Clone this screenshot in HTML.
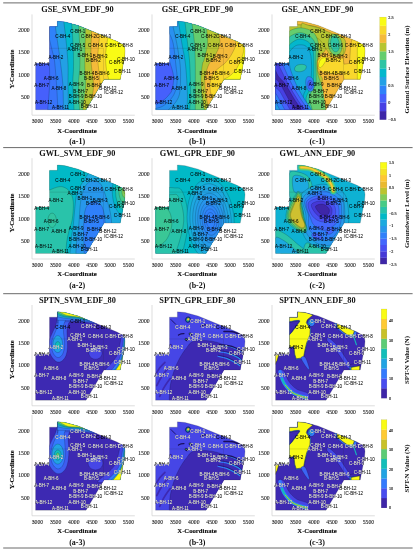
<!DOCTYPE html>
<html lang="en"><head><meta charset="utf-8"><title>Contour maps of GSE, GWL and SPT-N</title>
<style>html,body{margin:0;padding:0;background:#fff}svg{display:block}.t{font-family:"Liberation Serif",serif;font-weight:bold;fill:#111}.k{font-family:"Liberation Serif",serif;fill:#1a1a1a;font-size:57px;stroke:#1a1a1a;stroke-width:1px}.b{font-family:"Liberation Sans",sans-serif;font-size:4.5px;fill:#000;stroke:#000;stroke-width:.04px}.w{font-family:"Liberation Sans",sans-serif;font-size:4.5px;fill:#fff;stroke:#fff;stroke-width:.04px}.c path{stroke:#000;stroke-opacity:.55;stroke-width:.33;stroke-linejoin:round}</style></head><body>
<svg width="416" height="550" viewBox="0 0 416 550">
<rect width="416" height="550" fill="#fff"/>
<defs><clipPath id="site"><path d="M35.6 109.7 L35.6 63.3 L49.5 63.3 L49.5 26.6 L57.4 26.6 L57.4 21.2 L65 21.9 L78 25.4 L100 34.4 L117 41.5 L122.9 44.7 L124.6 48 L125 50.7 L124.5 57 L123.4 62.7 L120.2 79.3 L104 79.3 L86 109.7Z"/></clipPath></defs>
<line x1="3.2" x2="412.6" y1="2.9" y2="2.9" stroke="#6a6a6a" stroke-width="1"/>
<line x1="3.2" x2="412.6" y1="147.6" y2="147.6" stroke="#6a6a6a" stroke-width="1"/>
<line x1="3.2" x2="412.6" y1="293.7" y2="293.7" stroke="#6a6a6a" stroke-width="1"/>
<line x1="3.2" x2="412.6" y1="548" y2="548" stroke="#6a6a6a" stroke-width="1"/>
<g transform="translate(0 0)">
<path d="M32 14.4V115.2H134.8" fill="none" stroke="#cfcfcf" stroke-width=".7"/>
<text class="k" transform="translate(37.4 123.2) scale(.1)" text-anchor="middle">3000</text>
<text class="k" transform="translate(55.6 123.2) scale(.1)" text-anchor="middle">3500</text>
<text class="k" transform="translate(73.8 123.2) scale(.1)" text-anchor="middle">4000</text>
<text class="k" transform="translate(92 123.2) scale(.1)" text-anchor="middle">4500</text>
<text class="k" transform="translate(110.2 123.2) scale(.1)" text-anchor="middle">5000</text>
<text class="k" transform="translate(128.4 123.2) scale(.1)" text-anchor="middle">5500</text>
<text class="k" transform="translate(29.6 32.1) scale(.1)" text-anchor="end">2000</text>
<text class="k" transform="translate(29.6 54.4) scale(.1)" text-anchor="end">1500</text>
<text class="k" transform="translate(29.6 76.7) scale(.1)" text-anchor="end">1000</text>
<text class="k" transform="translate(29.6 99) scale(.1)" text-anchor="end">500</text>
<text class="t" x="77.4" y="12" font-size="8.3" text-anchor="middle">GSE_SVM_EDF_90</text>
<text class="t" x="77" y="132.7" font-size="6.7" text-anchor="middle" style="stroke:#111;stroke-width:.14px">X-Coordinate</text>
<text class="t" x="77.2" y="144" font-size="8" text-anchor="middle">(a-1)</text>
<text class="t" font-size="6.7" text-anchor="middle" style="stroke:#111;stroke-width:.14px" transform="translate(14.2 69) rotate(-90)">Y-Coordinate</text>
<g class="c" clip-path="url(#site)">
<rect x="30" y="15" width="100" height="100" fill="#4660fc" stroke="none"/>
<path d="M49.4 63.3C49.43 66.75 49.88 76.22 49.6 84C49.32 91.78 48.02 105.67 47.7 110L47.7 120L140 120L140 0L49.4 0Z" fill="#3874fa"/>
<path d="M49.5 39.6C50 41.67 51.68 48.6 52.5 52C53.32 55.4 53.73 54.67 54.4 60C55.07 65.33 55.92 75.67 56.5 84C57.08 92.33 57.67 105.67 57.9 110L57.9 120L140 120L140 0L49.5 0Z" fill="#2f82f9"/>
<path d="M55.3 26.5C55.75 29.58 57.13 38.92 58 45C58.87 51.08 59.7 56.5 60.5 63C61.3 69.5 62.3 76.17 62.8 84C63.3 91.83 63.38 105.67 63.5 110L63.5 120L140 120L140 0L55.3 0Z" fill="#23a0e5"/>
<path d="M63.8 21.6C64.25 25.5 65.8 37.77 66.5 45C67.2 52.23 67.75 58.5 68 65C68.25 71.5 67.92 76.5 68 84C68.08 91.5 68.42 105.67 68.5 110L68.5 120L140 120L140 0L63.8 0Z" fill="#03b7cc"/>
<path d="M71.8 23.8C72.05 28.17 73.02 42.63 73.3 50C73.58 57.37 73.58 62.33 73.5 68C73.42 73.67 72.72 77 72.8 84C72.88 91 73.8 105.67 74 110L74 120L140 120L140 0L71.8 0Z" fill="#2ec4a4"/>
<path d="M78.8 26C78.97 30 79.63 43 79.8 50C79.97 57 80.02 62.33 79.8 68C79.58 73.67 78.55 77 78.5 84C78.45 91 79.33 105.67 79.5 110L79.5 120L140 120L140 0L78.8 0Z" fill="#65cd6e"/>
<path d="M85.6 29.5C85.5 32.92 85.13 43.58 85 50C84.87 56.42 84.67 62.33 84.8 68C84.93 73.67 85.93 78.67 85.8 84C85.67 89.33 84.48 95.67 84 100C83.52 104.33 83.08 108.33 82.9 110L82.9 120L140 120L140 0L85.6 0Z" fill="#b6c532"/>
<path d="M91.5 31C91.42 35.83 90.67 51.17 91 60C91.33 68.83 93.33 77.67 93.5 84C93.67 90.33 92.42 94.67 92 98C91.58 101.33 91.17 103 91 104L91 120L140 120L140 0L91.5 0Z" fill="#f4ba3a"/>
<path d="M99.8 34C99.53 36.67 98.53 45.67 98.2 50C97.87 54.33 97.47 54.33 97.8 60C98.13 65.67 99.83 78.67 100.2 84C100.57 89.33 100.03 90.67 100 92L100 120L140 120L140 0L99.8 0Z" fill="#f9d82c"/>
<path d="M108 37C107.7 38.83 106.6 44.5 106.2 48C105.8 51.5 105.55 54.33 105.6 58C105.65 61.67 105.93 66.33 106.5 70C107.07 73.67 108.58 78.33 109 80L109 120L140 120L140 0L108 0Z" fill="#f9fb15"/>
</g>
<path d="M35.6 109.7 L35.6 63.3 L49.5 63.3 L49.5 26.6 L57.4 26.6 L57.4 21.2 L65 21.9 L78 25.4 L100 34.4 L117 41.5 L122.9 44.7 L124.6 48 L125 50.7 L124.5 57 L123.4 62.7 L120.2 79.3 L104 79.3 L86 109.7Z" fill="none" stroke="#222" stroke-opacity=".55" stroke-width=".35"/>
<path d="M49.5 48.3H103.5V79.3" fill="none" stroke="#222" stroke-opacity=".45" stroke-width=".3"/>
<text class="b" x="77.7" y="32.6" text-anchor="middle">C-BH-1</text>
<text class="b" x="62.7" y="38.4" text-anchor="middle">C-BH-4</text>
<text class="b" x="88.4" y="37.8" text-anchor="middle">C-BH-2</text>
<text class="b" x="103.6" y="38.4" text-anchor="middle">C-BH-3</text>
<text class="b" x="77.7" y="46.5" text-anchor="middle">C-BH-5</text>
<text class="b" x="74.8" y="50.8" text-anchor="middle">A-BH-1</text>
<text class="b" x="95.6" y="47.1" text-anchor="middle">C-BH-6</text>
<text class="b" x="112.3" y="47.1" text-anchor="middle">C-BH-7</text>
<text class="b" x="125.3" y="47.1" text-anchor="middle">C-BH-8</text>
<text class="b" x="84.9" y="56.5" text-anchor="middle">B-BH-1</text>
<text class="b" x="100.2" y="58" text-anchor="middle">B-BH-3</text>
<text class="b" x="93.5" y="61.5" text-anchor="middle">B-BH-2</text>
<text class="b" x="56" y="58.5" text-anchor="middle">A-BH-2</text>
<text class="b" x="126" y="60.9" text-anchor="middle">C-BH-10</text>
<text class="b" x="116.6" y="64.4" text-anchor="middle">C-BH-9</text>
<text class="b" x="41.6" y="65.8" text-anchor="middle">A-BH-4</text>
<text class="b" x="122.4" y="73" text-anchor="middle">C-BH-11</text>
<text class="b" x="87" y="75.3" text-anchor="middle">B-BH-4</text>
<text class="b" x="102.2" y="75.3" text-anchor="middle">B-BH-6</text>
<text class="b" x="91.5" y="79.6" text-anchor="middle">B-BH-5</text>
<text class="b" x="51.2" y="79.6" text-anchor="middle">A-BH-6</text>
<text class="b" x="41.6" y="86.9" text-anchor="middle">A-BH-7</text>
<text class="b" x="76.2" y="86" text-anchor="middle">A-BH-9</text>
<text class="b" x="94.4" y="87.4" text-anchor="middle">B-BH-8</text>
<text class="b" x="58.9" y="89.7" text-anchor="middle">A-BH-8</text>
<text class="b" x="80.6" y="92.6" text-anchor="middle">B-BH-7</text>
<text class="b" x="108" y="89.7" text-anchor="middle">B-BH-12</text>
<text class="b" x="113.7" y="94.1" text-anchor="middle">IC-BH-12</text>
<text class="b" x="76.2" y="97.5" text-anchor="middle">B-BH-9</text>
<text class="b" x="93.5" y="97.5" text-anchor="middle">B-BH-10</text>
<text class="b" x="43.6" y="103.9" text-anchor="middle">A-BH-12</text>
<text class="b" x="77.1" y="103.9" text-anchor="middle">A-BH-10</text>
<text class="b" x="60.4" y="109.1" text-anchor="middle">A-BH-11</text>
<text class="b" x="89.2" y="107.6" text-anchor="middle">B-BH-11</text>
</g>
<g transform="translate(120 0)">
<path d="M32 14.4V115.2H134.8" fill="none" stroke="#cfcfcf" stroke-width=".7"/>
<text class="k" transform="translate(37.4 123.2) scale(.1)" text-anchor="middle">3000</text>
<text class="k" transform="translate(55.6 123.2) scale(.1)" text-anchor="middle">3500</text>
<text class="k" transform="translate(73.8 123.2) scale(.1)" text-anchor="middle">4000</text>
<text class="k" transform="translate(92 123.2) scale(.1)" text-anchor="middle">4500</text>
<text class="k" transform="translate(110.2 123.2) scale(.1)" text-anchor="middle">5000</text>
<text class="k" transform="translate(128.4 123.2) scale(.1)" text-anchor="middle">5500</text>
<text class="k" transform="translate(29.6 32.1) scale(.1)" text-anchor="end">2000</text>
<text class="k" transform="translate(29.6 54.4) scale(.1)" text-anchor="end">1500</text>
<text class="k" transform="translate(29.6 76.7) scale(.1)" text-anchor="end">1000</text>
<text class="k" transform="translate(29.6 99) scale(.1)" text-anchor="end">500</text>
<text class="t" x="77.4" y="12" font-size="8.3" text-anchor="middle">GSE_GPR_EDF_90</text>
<text class="t" x="77" y="132.7" font-size="6.7" text-anchor="middle" style="stroke:#111;stroke-width:.14px">X-Coordinate</text>
<text class="t" x="77.2" y="144" font-size="8" text-anchor="middle">(b-1)</text>
<g class="c" clip-path="url(#site)">
<rect x="30" y="15" width="100" height="100" fill="#2f82f9" stroke="none"/>
<path d="M49.2 33C49.87 34.77 52.1 38.37 53.2 43.6C54.3 48.83 55.13 58.33 55.8 64.4C56.47 70.47 57.33 75.4 57.2 80C57.07 84.6 56.2 88.67 55 92C53.8 95.33 52 97.67 50 100C48 102.33 45.4 104.58 43 106C40.6 107.42 37.77 108 35.6 108.5C33.43 109 30.93 108.92 30 109L30 120L140 120L140 0L49.2 0Z" fill="#2991ef"/>
<path d="M30 60L30 60L49.2 60C49.5 61 50.37 63.83 51 66C51.63 68.17 52.57 70.67 53 73C53.43 75.33 53.77 77.17 53.6 80C53.43 82.83 52.72 87.6 52 90C51.28 92.4 50.47 92.9 49.3 94.4C48.13 95.9 46.55 97.65 45 99C43.45 100.35 41.57 101.58 40 102.5C38.43 103.42 37.27 104.08 35.6 104.5C33.93 104.92 30.93 104.92 30 105Z" fill="#4660fc"/>
<path d="M53 26.6C53.63 29.43 55.62 37.3 56.8 43.6C57.98 49.9 59.48 58.33 60.1 64.4C60.72 70.47 60.62 75 60.5 80C60.38 85 60.32 90.57 59.4 94.4C58.48 98.23 56.9 100.4 55 103C53.1 105.6 49.17 108.83 48 110L48 120L140 120L140 0L53 0Z" fill="#23a0e5"/>
<path d="M58.5 22C59.07 25.6 60.73 36.53 61.9 43.6C63.07 50.67 64.58 55.93 65.5 64.4C66.42 72.87 67.22 86.8 67.4 94.4C67.58 102 66.73 107.4 66.6 110L66.6 120L140 120L140 0L58.5 0Z" fill="#03b7cc"/>
<path d="M65 22C65.43 25.6 66.8 36.53 67.6 43.6C68.4 50.67 69.32 55.93 69.8 64.4C70.28 72.87 70.5 86.8 70.5 94.4C70.5 102 69.92 107.4 69.8 110L69.8 120L140 120L140 0L65 0Z" fill="#2ec4a4"/>
<path d="M72 23.5C72.42 26.85 73.95 36.78 74.5 43.6C75.05 50.42 75.17 55.93 75.3 64.4C75.43 72.87 75.3 86.8 75.3 94.4C75.3 102 75.3 107.4 75.3 110L75.3 120L140 120L140 0L72 0Z" fill="#65cd6e"/>
<path d="M86.5 28C86.55 28.33 86.63 27.27 86.8 30C86.97 32.73 87.97 39.4 87.5 44.4C87.03 49.4 84.83 56.73 84 60C83.17 63.27 83 60.93 82.5 64C82 67.07 81.12 73.58 81 78.4C80.88 83.22 81.3 88.08 81.8 92.9C82.3 97.72 83.55 104.45 84 107.3C84.45 110.15 84.42 109.55 84.5 110L84.5 120L140 120L140 0L86.5 0Z" fill="#b6c532"/>
<path d="M99 33C99.02 33.33 98.97 33.1 99.1 35C99.23 36.9 100.52 40.9 99.8 44.4C99.08 47.9 96.6 52.73 94.8 56C93 59.27 90.57 60.75 89 64C87.43 67.25 86.08 71.9 85.4 75.5C84.72 79.1 84.67 81.52 84.9 85.6C85.13 89.68 86.23 96.63 86.8 100C87.37 103.37 87.93 104.13 88.3 105.8C88.67 107.47 88.88 109.3 89 110L89 120L140 120L140 0L99 0Z" fill="#f4ba3a"/>
<path d="M115.8 40C115.78 40.38 115.83 41.08 115.7 42.3C115.57 43.52 115.85 45.02 115 47.3C114.15 49.58 112.28 53.35 110.6 56C108.92 58.65 106.45 61.53 104.9 63.2C103.35 64.87 103.12 64.42 101.3 66C99.48 67.58 95.82 70.15 94 72.7C92.18 75.25 91 78.18 90.4 81.3C89.8 84.42 89.92 88.52 90.4 91.4C90.88 94.28 92.2 97.25 93.3 98.6C94.4 99.95 95.88 99.43 97 99.5C98.12 99.57 99.5 99.08 100 99L100 120L140 120L140 0L115.8 0Z" fill="#f9d82c"/>
<path d="M122 42C122.03 42.4 121.93 42.8 122.2 44.4C122.47 46 124.08 48.47 123.6 51.6C123.12 54.73 120.73 59.97 119.3 63.2C117.87 66.43 116.72 68.78 115 71C113.28 73.22 110.82 75.12 109 76.5C107.18 77.88 105.1 78.38 104.1 79.3C103.1 80.22 103.18 81.55 103 82L103 120L140 120L140 0L122 0Z" fill="#f9fb15"/>
</g>
<path d="M35.6 109.7 L35.6 63.3 L49.5 63.3 L49.5 26.6 L57.4 26.6 L57.4 21.2 L65 21.9 L78 25.4 L100 34.4 L117 41.5 L122.9 44.7 L124.6 48 L125 50.7 L124.5 57 L123.4 62.7 L120.2 79.3 L104 79.3 L86 109.7Z" fill="none" stroke="#222" stroke-opacity=".55" stroke-width=".35"/>
<path d="M49.5 48.3H103.5V79.3" fill="none" stroke="#222" stroke-opacity=".45" stroke-width=".3"/>
<text class="b" x="77.7" y="32.6" text-anchor="middle">C-BH-1</text>
<text class="b" x="62.7" y="38.4" text-anchor="middle">C-BH-4</text>
<text class="b" x="88.4" y="37.8" text-anchor="middle">C-BH-2</text>
<text class="b" x="103.6" y="38.4" text-anchor="middle">C-BH-3</text>
<text class="b" x="77.7" y="46.5" text-anchor="middle">C-BH-5</text>
<text class="b" x="74.8" y="50.8" text-anchor="middle">A-BH-1</text>
<text class="b" x="95.6" y="47.1" text-anchor="middle">C-BH-6</text>
<text class="b" x="112.3" y="47.1" text-anchor="middle">C-BH-7</text>
<text class="b" x="125.3" y="47.1" text-anchor="middle">C-BH-8</text>
<text class="b" x="84.9" y="56.5" text-anchor="middle">B-BH-1</text>
<text class="b" x="100.2" y="58" text-anchor="middle">B-BH-3</text>
<text class="b" x="93.5" y="61.5" text-anchor="middle">B-BH-2</text>
<text class="b" x="56" y="58.5" text-anchor="middle">A-BH-2</text>
<text class="b" x="126" y="60.9" text-anchor="middle">C-BH-10</text>
<text class="b" x="116.6" y="64.4" text-anchor="middle">C-BH-9</text>
<text class="b" x="41.6" y="65.8" text-anchor="middle">A-BH-4</text>
<text class="b" x="122.4" y="73" text-anchor="middle">C-BH-11</text>
<text class="b" x="87" y="75.3" text-anchor="middle">B-BH-4</text>
<text class="b" x="102.2" y="75.3" text-anchor="middle">B-BH-6</text>
<text class="b" x="91.5" y="79.6" text-anchor="middle">B-BH-5</text>
<text class="b" x="51.2" y="79.6" text-anchor="middle">A-BH-6</text>
<text class="b" x="41.6" y="86.9" text-anchor="middle">A-BH-7</text>
<text class="b" x="76.2" y="86" text-anchor="middle">A-BH-9</text>
<text class="b" x="94.4" y="87.4" text-anchor="middle">B-BH-8</text>
<text class="b" x="58.9" y="89.7" text-anchor="middle">A-BH-8</text>
<text class="b" x="80.6" y="92.6" text-anchor="middle">B-BH-7</text>
<text class="b" x="108" y="89.7" text-anchor="middle">B-BH-12</text>
<text class="b" x="113.7" y="94.1" text-anchor="middle">IC-BH-12</text>
<text class="b" x="76.2" y="97.5" text-anchor="middle">B-BH-9</text>
<text class="b" x="93.5" y="97.5" text-anchor="middle">B-BH-10</text>
<text class="b" x="43.6" y="103.9" text-anchor="middle">A-BH-12</text>
<text class="b" x="77.1" y="103.9" text-anchor="middle">A-BH-10</text>
<text class="b" x="60.4" y="109.1" text-anchor="middle">A-BH-11</text>
<text class="b" x="89.2" y="107.6" text-anchor="middle">B-BH-11</text>
</g>
<g transform="translate(240 0)">
<path d="M32 14.4V115.2H134.8" fill="none" stroke="#cfcfcf" stroke-width=".7"/>
<text class="k" transform="translate(37.4 123.2) scale(.1)" text-anchor="middle">3000</text>
<text class="k" transform="translate(55.6 123.2) scale(.1)" text-anchor="middle">3500</text>
<text class="k" transform="translate(73.8 123.2) scale(.1)" text-anchor="middle">4000</text>
<text class="k" transform="translate(92 123.2) scale(.1)" text-anchor="middle">4500</text>
<text class="k" transform="translate(110.2 123.2) scale(.1)" text-anchor="middle">5000</text>
<text class="k" transform="translate(128.4 123.2) scale(.1)" text-anchor="middle">5500</text>
<text class="k" transform="translate(29.6 32.1) scale(.1)" text-anchor="end">2000</text>
<text class="k" transform="translate(29.6 54.4) scale(.1)" text-anchor="end">1500</text>
<text class="k" transform="translate(29.6 76.7) scale(.1)" text-anchor="end">1000</text>
<text class="k" transform="translate(29.6 99) scale(.1)" text-anchor="end">500</text>
<text class="t" x="77.4" y="12" font-size="8.3" text-anchor="middle">GSE_ANN_EDF_90</text>
<text class="t" x="77" y="132.7" font-size="6.7" text-anchor="middle" style="stroke:#111;stroke-width:.14px">X-Coordinate</text>
<text class="t" x="77.2" y="144" font-size="8" text-anchor="middle">(c-1)</text>
<g class="c" clip-path="url(#site)">
<rect x="30" y="15" width="100" height="100" fill="#b6c532" stroke="none"/>
<path d="M48.03 24.13C49.55 24.21 53.36 24.38 57.16 24.62C60.97 24.86 66.78 24.94 70.87 25.58C74.95 26.22 78.88 27.1 81.68 28.46C84.49 29.82 86.77 31.59 87.69 33.75C88.61 35.91 87.69 38.56 87.21 41.44C86.73 44.33 86.01 48.73 84.81 51.06C83.61 53.38 81.28 53.38 80 55.38C78.72 57.39 77.36 60.19 77.12 63.08C76.88 65.96 77.68 70.09 78.56 72.69C79.44 75.3 82 76.3 82.4 78.7C82.8 81.11 81.04 84.11 80.96 87.12C80.88 90.12 81.36 93.53 81.92 96.73C82.48 99.94 83.53 103.54 84.33 106.35C85.13 109.15 86.33 112.36 86.73 113.56L130.96 113.56L130.96 15L48.03 15Z" fill="#f4ba3a"/>
<path d="M61.88 23.25C62.55 22.36 64.38 24.03 65.94 24.5C67.5 24.97 69.24 25.52 71.25 26.06C73.26 26.61 75.89 27.1 77.97 27.78C80.05 28.46 81.74 29.32 83.75 30.12C85.76 30.93 87.92 31.77 90 32.62C92.08 33.48 93.91 34.29 96.25 35.28C98.59 36.27 102.45 36.87 104.06 38.56C105.68 40.26 105.94 42.86 105.94 45.44C105.94 48.02 105.29 52.16 104.06 54.03C102.84 55.91 100.68 56.35 98.59 56.69C96.51 57.03 93.52 57.16 91.56 56.06C89.61 54.97 88.7 52.68 86.88 50.12C85.05 47.57 83.23 43.35 80.62 40.75C78.02 38.15 74.38 36.32 71.25 34.5C68.12 32.68 63.44 31.69 61.88 29.81C60.31 27.94 61.2 24.14 61.88 23.25Z" fill="#b6c532"/>
<path d="M46.83 32.31C48.03 31.75 51.43 29.66 54.04 28.94C56.64 28.22 59.33 27.5 62.45 27.98C65.58 28.46 70.18 29.58 72.79 31.83C75.39 34.07 77.12 37.84 78.08 41.44C79.04 45.05 78.76 49.86 78.56 53.46C78.36 57.07 76.96 59.47 76.88 63.08C76.79 66.68 77.32 71.49 78.08 75.1C78.84 78.7 80.48 81.11 81.44 84.71C82.4 88.32 83.04 91.92 83.85 96.73C84.65 101.54 85.85 110.75 86.25 113.56L30 113.56L30 32.31Z" fill="#65cd6e"/>
<path d="M46.83 38.56C48.03 37.84 51.55 35.19 54.04 34.23C56.52 33.27 58.85 32.23 61.73 32.79C64.62 33.35 69.02 35.35 71.35 37.6C73.67 39.84 74.95 42 75.67 46.25C76.39 50.5 75.59 58.27 75.67 63.08C75.75 67.88 76.15 71.49 76.15 75.1C76.15 78.7 76.47 81.91 75.67 84.71C74.87 87.52 72.47 89.52 71.35 91.92C70.22 94.33 68.94 96.73 68.94 99.13C68.94 101.54 70.62 103.94 71.35 106.35C72.07 108.75 72.95 112.36 73.27 113.56L30 113.56L30 38.56Z" fill="#2ec4a4"/>
<path d="M46.83 47.45C47.83 46.53 50.63 43.33 52.84 41.92C55.04 40.52 57.36 38.96 60.05 39.04C62.73 39.12 66.74 40.4 68.94 42.4C71.15 44.41 72.47 45.61 73.27 51.06C74.07 56.51 73.91 69.29 73.75 75.1C73.59 80.91 73.27 82.91 72.31 85.91C71.35 88.92 69.02 90.92 67.98 93.12C66.94 95.33 66.06 96.73 66.06 99.13C66.06 101.54 67.38 105.14 67.98 107.55C68.58 109.95 69.38 112.56 69.66 113.56L30 113.56L30 47.45Z" fill="#03b7cc"/>
<path d="M46.83 55.38C47.71 54.26 50.31 50.38 52.12 48.65C53.92 46.93 55.32 45.45 57.64 45.05C59.97 44.65 63.85 44.45 66.06 46.25C68.26 48.05 69.98 51.06 70.87 55.87C71.75 60.67 71.75 70.09 71.35 75.1C70.95 80.1 69.66 82.91 68.46 85.91C67.26 88.92 65.02 90.72 64.13 93.12C63.25 95.53 62.93 97.93 63.17 100.34C63.41 102.74 64.98 105.34 65.58 107.55C66.18 109.75 66.58 112.56 66.78 113.56L30 113.56L30 55.38Z" fill="#15aada"/>
<path d="M54.53 68.71C54.65 67.72 55.37 66.11 56.7 65.39C58.02 64.67 60.9 64.31 62.47 64.38C64.03 64.45 65.59 64.98 66.08 65.82C66.56 66.66 66.2 68.47 65.35 69.43C64.51 70.39 62.59 71.28 61.02 71.59C59.46 71.91 57.06 71.79 55.97 71.31C54.89 70.82 54.41 69.69 54.53 68.71Z" fill="#2ec4a4"/>
<path d="M49.05 60.77C49.14 61.49 49.31 63.42 49.62 65.1C49.94 66.78 49.87 67.75 50.92 70.87C51.98 74 53.81 79.29 55.97 83.86C58.14 88.43 61.63 94.44 63.91 98.29C66.2 102.14 68.12 104.54 69.68 106.95C71.25 109.35 72.69 111.76 73.29 112.72L30 112.72L30 60.77Z" fill="#2f82f9"/>
<path d="M42.27 60.77C42.43 61.49 42.72 63.42 43.28 65.1C43.83 66.78 44.19 67.75 45.58 70.87C46.98 74 49.19 79.29 51.65 83.86C54.1 88.43 57.9 94.44 60.3 98.29C62.71 102.14 64.51 104.54 66.08 106.95C67.64 109.35 69.08 111.76 69.68 112.72L30 112.72L30 60.77Z" fill="#4660fc"/>
<path d="M37.5 60.77C37.7 61.49 37.98 63.42 38.66 65.1C39.33 66.78 39.98 67.75 41.54 70.87C43.11 74 45.51 79.29 48.04 83.86C50.56 88.43 54.29 94.44 56.7 98.29C59.1 102.14 60.9 104.54 62.47 106.95C64.03 109.35 65.47 111.76 66.08 112.72L30 112.72L30 60.77Z" fill="#4740e3"/>
<path d="M32.89 67.27C33.32 67.82 34.52 69.02 35.48 70.58C36.45 72.15 37.05 74.43 38.66 76.65C40.27 78.86 42.63 80.25 45.15 83.86C47.68 87.47 51.4 94.44 53.81 98.29C56.21 102.14 57.97 104.54 59.58 106.95C61.19 109.35 62.83 111.76 63.48 112.72L30 112.72L30 67.27Z" fill="#3e26a8"/>
<path d="M32.89 76.65C33.32 77.01 34.28 77.61 35.48 78.81C36.69 80.01 38.01 80.61 40.1 83.86C42.19 87.11 45.87 94.44 48.04 98.29C50.2 102.14 51.65 104.54 53.09 106.95C54.53 109.35 56.09 111.76 56.7 112.72L30 112.72L30 76.65Z" fill="#4740e3"/>
<path d="M32.89 86.02C33.32 86.27 34.38 86.63 35.48 87.47C36.59 88.31 38.15 89.27 39.52 91.08C40.89 92.88 42.22 95.64 43.71 98.29C45.2 100.94 47.15 104.54 48.47 106.95C49.79 109.35 51.12 111.76 51.65 112.72L30 112.72L30 86.02Z" fill="#4660fc"/>
<path d="M32.89 91.8C33.32 92.04 34.52 92.16 35.48 93.24C36.45 94.32 37.36 96.01 38.66 98.29C39.96 100.57 41.95 104.54 43.28 106.95C44.6 109.35 46.04 111.76 46.59 112.72L30 112.72L30 91.8Z" fill="#2f82f9"/>
<path d="M32.89 100.89C33.32 101.06 34.57 100.89 35.48 101.9C36.4 102.91 37.41 105.14 38.37 106.95C39.33 108.75 40.77 111.76 41.26 112.72L30 112.72L30 100.89Z" fill="#23a0e5"/>
<path d="M67.81 76.65C68.86 76.28 71.1 76.89 72.14 78.09C73.17 79.29 73.87 81.82 74.01 83.86C74.16 85.9 73.84 89.15 73 90.35C72.16 91.56 70.12 91.8 68.96 91.08C67.81 90.35 66.6 87.83 66.08 86.02C65.55 84.22 65.5 81.82 65.79 80.25C66.08 78.69 66.75 77.01 67.81 76.65Z" fill="#2f82f9"/>
<path d="M68.67 80.69C69.3 80.2 70.91 80.2 71.56 80.97C72.21 81.74 72.62 83.96 72.57 85.3C72.52 86.65 71.92 88.57 71.27 89.05C70.62 89.54 69.25 89.05 68.67 88.19C68.1 87.32 67.81 85.11 67.81 83.86C67.81 82.61 68.05 81.17 68.67 80.69Z" fill="#4660fc"/>
<path d="M77.5 61.06 L81.41 56.06 L88.44 57.62 L103.28 58.25 L104.06 64.19 L109.53 63.41 L110.62 45.44 L111.88 39.5 L117.34 40.44 L127.5 40.44 L127.5 80.12 L104.06 80.12 L103.28 73.56 L93.12 74.34 L83.75 72.78 L78.28 68.88Z" fill="#f9d82c"/>
<path d="M117.34 40.44 L127.5 40.44 L127.5 80.12 L117.34 80.12Z" fill="#f9fb15"/>
<path d="M78.75 63.88C79.06 62.7 79.66 60.54 80.62 59.5C81.59 58.46 83.62 57.62 84.53 57.62C85.44 57.62 86.22 58.41 86.09 59.5C85.96 60.59 84.66 62.83 83.75 64.19C82.84 65.54 81.46 67.23 80.62 67.62C79.79 68.02 79.06 67.16 78.75 66.53C78.44 65.91 78.44 65.05 78.75 63.88Z" fill="#f9fb15"/>
<path d="M101.93 43.65C102.22 45.71 102.06 48.23 101.51 50C100.97 51.78 99.85 53.48 98.68 54.29C97.52 55.1 95.87 55.33 94.52 54.88C93.18 54.42 91.63 53.09 90.62 51.54C89.61 49.98 88.76 47.6 88.47 45.55C88.18 43.49 88.34 40.97 88.89 39.2C89.43 37.42 90.55 35.72 91.72 34.91C92.88 34.1 94.53 33.87 95.88 34.32C97.22 34.78 98.77 36.11 99.78 37.66C100.79 39.22 101.64 41.6 101.93 43.65Z" fill="#65cd6e"/>
<path d="M99.36 43.39C99.58 44.94 99.5 46.83 99.18 48.16C98.85 49.49 98.15 50.75 97.41 51.35C96.66 51.94 95.59 52.09 94.71 51.72C93.83 51.36 92.81 50.34 92.13 49.15C91.45 47.97 90.86 46.16 90.64 44.61C90.42 43.06 90.5 41.17 90.82 39.84C91.15 38.51 91.85 37.25 92.59 36.65C93.34 36.06 94.41 35.91 95.29 36.28C96.17 36.64 97.19 37.66 97.87 38.85C98.55 40.03 99.14 41.84 99.36 43.39Z" fill="#2ec4a4"/>
</g>
<path d="M35.6 109.7 L35.6 63.3 L49.5 63.3 L49.5 26.6 L57.4 26.6 L57.4 21.2 L65 21.9 L78 25.4 L100 34.4 L117 41.5 L122.9 44.7 L124.6 48 L125 50.7 L124.5 57 L123.4 62.7 L120.2 79.3 L104 79.3 L86 109.7Z" fill="none" stroke="#222" stroke-opacity=".55" stroke-width=".35"/>
<path d="M49.5 48.3H103.5V79.3" fill="none" stroke="#222" stroke-opacity=".45" stroke-width=".3"/>
<text class="b" x="77.7" y="32.6" text-anchor="middle">C-BH-1</text>
<text class="b" x="62.7" y="38.4" text-anchor="middle">C-BH-4</text>
<text class="b" x="88.4" y="37.8" text-anchor="middle">C-BH-2</text>
<text class="b" x="103.6" y="38.4" text-anchor="middle">C-BH-3</text>
<text class="b" x="77.7" y="46.5" text-anchor="middle">C-BH-5</text>
<text class="b" x="74.8" y="50.8" text-anchor="middle">A-BH-1</text>
<text class="b" x="95.6" y="47.1" text-anchor="middle">C-BH-6</text>
<text class="b" x="112.3" y="47.1" text-anchor="middle">C-BH-7</text>
<text class="b" x="125.3" y="47.1" text-anchor="middle">C-BH-8</text>
<text class="b" x="84.9" y="56.5" text-anchor="middle">B-BH-1</text>
<text class="b" x="100.2" y="58" text-anchor="middle">B-BH-3</text>
<text class="b" x="93.5" y="61.5" text-anchor="middle">B-BH-2</text>
<text class="b" x="56" y="58.5" text-anchor="middle">A-BH-2</text>
<text class="b" x="126" y="60.9" text-anchor="middle">C-BH-10</text>
<text class="b" x="116.6" y="64.4" text-anchor="middle">C-BH-9</text>
<text class="b" x="41.6" y="65.8" text-anchor="middle">A-BH-4</text>
<text class="b" x="122.4" y="73" text-anchor="middle">C-BH-11</text>
<text class="b" x="87" y="75.3" text-anchor="middle">B-BH-4</text>
<text class="b" x="102.2" y="75.3" text-anchor="middle">B-BH-6</text>
<text class="b" x="91.5" y="79.6" text-anchor="middle">B-BH-5</text>
<text class="b" x="51.2" y="79.6" text-anchor="middle">A-BH-6</text>
<text class="b" x="41.6" y="86.9" text-anchor="middle">A-BH-7</text>
<text class="b" x="76.2" y="86" text-anchor="middle">A-BH-9</text>
<text class="b" x="94.4" y="87.4" text-anchor="middle">B-BH-8</text>
<text class="b" x="58.9" y="89.7" text-anchor="middle">A-BH-8</text>
<text class="b" x="80.6" y="92.6" text-anchor="middle">B-BH-7</text>
<text class="b" x="108" y="89.7" text-anchor="middle">B-BH-12</text>
<text class="b" x="113.7" y="94.1" text-anchor="middle">IC-BH-12</text>
<text class="b" x="76.2" y="97.5" text-anchor="middle">B-BH-9</text>
<text class="b" x="93.5" y="97.5" text-anchor="middle">B-BH-10</text>
<text class="b" x="43.6" y="103.9" text-anchor="middle">A-BH-12</text>
<text class="b" x="77.1" y="103.9" text-anchor="middle">A-BH-10</text>
<text class="b" x="60.4" y="109.1" text-anchor="middle">A-BH-11</text>
<text class="b" x="89.2" y="107.6" text-anchor="middle">B-BH-11</text>
</g>
<g transform="translate(0 143.8)">
<path d="M32 14.4V115.2H134.8" fill="none" stroke="#cfcfcf" stroke-width=".7"/>
<text class="k" transform="translate(37.4 123.2) scale(.1)" text-anchor="middle">3000</text>
<text class="k" transform="translate(55.6 123.2) scale(.1)" text-anchor="middle">3500</text>
<text class="k" transform="translate(73.8 123.2) scale(.1)" text-anchor="middle">4000</text>
<text class="k" transform="translate(92 123.2) scale(.1)" text-anchor="middle">4500</text>
<text class="k" transform="translate(110.2 123.2) scale(.1)" text-anchor="middle">5000</text>
<text class="k" transform="translate(128.4 123.2) scale(.1)" text-anchor="middle">5500</text>
<text class="k" transform="translate(29.6 32.1) scale(.1)" text-anchor="end">2000</text>
<text class="k" transform="translate(29.6 54.4) scale(.1)" text-anchor="end">1500</text>
<text class="k" transform="translate(29.6 76.7) scale(.1)" text-anchor="end">1000</text>
<text class="k" transform="translate(29.6 99) scale(.1)" text-anchor="end">500</text>
<text class="t" x="77.4" y="12.6" font-size="8.3" text-anchor="middle">GWL_SVM_EDF_90</text>
<text class="t" x="77" y="132.7" font-size="6.7" text-anchor="middle" style="stroke:#111;stroke-width:.14px">X-Coordinate</text>
<text class="t" x="77.2" y="144" font-size="8" text-anchor="middle">(a-2)</text>
<text class="t" font-size="6.7" text-anchor="middle" style="stroke:#111;stroke-width:.14px" transform="translate(14.2 69) rotate(-90)">Y-Coordinate</text>
<g class="c" clip-path="url(#site)">
<rect x="30" y="15" width="100" height="100" fill="#29c3aa" stroke="none"/>
<path d="M46.83 47.65C47.23 47.45 47.63 47.13 49.23 46.45C50.83 45.77 54.16 44.13 56.44 43.57C58.73 43 60.73 42.4 62.93 43.08C65.14 43.77 67.94 45.17 69.66 47.65C71.39 50.14 72.83 53.38 73.27 57.99C73.71 62.6 73.03 70.41 72.31 75.3C71.59 80.18 69.9 83.31 68.94 87.32C67.98 91.32 67.02 94.93 66.54 99.33C66.06 103.74 66.14 111.35 66.06 113.76L130.96 113.76L130.96 15.2L46.83 15.2Z" fill="#01b9c7"/>
<path d="M69.66 113.76C69.94 110.55 70.75 99.94 71.35 94.53C71.95 89.12 72.67 86.51 73.27 81.31C73.87 76.1 74.31 68.69 74.95 63.28C75.59 57.87 75.55 53.46 77.12 48.85C78.68 44.25 82.16 39.24 84.33 35.63C86.49 32.03 89.13 28.62 90.1 27.22L130.96 27.22L130.96 113.76Z" fill="#1caadf"/>
<path d="M75.67 113.76C75.87 110.55 76.35 99.94 76.88 94.53C77.4 89.12 78.16 87.52 78.8 81.31C79.44 75.1 79.56 63.88 80.72 57.27C81.88 50.66 83.61 45.05 85.77 41.64C87.93 38.24 91.18 36.99 93.7 36.83C96.23 36.67 98.87 38 100.91 40.68C102.96 43.37 104.4 48.25 105.96 52.94C107.52 57.63 109.25 63.48 110.29 68.81C111.33 74.13 111.89 82.23 112.21 84.91L112.21 113.76Z" fill="#2797eb"/>
<path d="M84.33 113.76C84.25 110.55 83.97 99.94 83.85 94.53C83.73 89.12 83.29 86.31 83.61 81.31C83.93 76.3 84.09 68.49 85.77 64.48C87.45 60.47 90.98 57.51 93.7 57.27C96.43 57.03 100.23 59.63 102.12 63.04C104 66.44 104.6 73.65 105 77.7C105.4 81.75 104.6 85.71 104.52 87.32L104.52 113.76Z" fill="#2f80fa"/>
<path d="M138.7 47.5C138.7 51.68 138.03 56.42 136.93 60.04C135.83 63.66 134.01 67.13 132.1 69.22C130.19 71.31 127.7 72.58 125.5 72.58C123.3 72.58 120.81 71.31 118.9 69.22C116.99 67.13 115.17 63.66 114.07 60.04C112.97 56.42 112.3 51.68 112.3 47.5C112.3 43.32 112.97 38.58 114.07 34.96C115.17 31.34 116.99 27.87 118.9 25.78C120.81 23.69 123.3 22.42 125.5 22.42C127.7 22.42 130.19 23.69 132.1 25.78C134.01 27.87 135.83 31.34 136.93 34.96C138.03 38.58 138.7 43.32 138.7 47.5Z" fill="#01b9c7"/>
<path d="M135.5 47.5C135.5 50.67 134.99 54.26 134.16 57C133.33 59.74 131.94 62.37 130.5 63.95C129.06 65.54 127.17 66.5 125.5 66.5C123.83 66.5 121.94 65.54 120.5 63.95C119.06 62.37 117.67 59.74 116.84 57C116.01 54.26 115.5 50.67 115.5 47.5C115.5 44.33 116.01 40.74 116.84 38C117.67 35.26 119.06 32.63 120.5 31.05C121.94 29.46 123.83 28.5 125.5 28.5C127.17 28.5 129.06 29.46 130.5 31.05C131.94 32.63 133.33 35.26 134.16 38C134.99 40.74 135.5 44.33 135.5 47.5Z" fill="#29c3aa"/>
<path d="M132.1 47.5C132.1 49.59 131.77 51.96 131.22 53.77C130.67 55.58 129.75 57.31 128.8 58.36C127.85 59.4 126.6 60.04 125.5 60.04C124.4 60.04 123.15 59.4 122.2 58.36C121.25 57.31 120.33 55.58 119.78 53.77C119.23 51.96 118.9 49.59 118.9 47.5C118.9 45.41 119.23 43.04 119.78 41.23C120.33 39.42 121.25 37.69 122.2 36.64C123.15 35.6 124.4 34.96 125.5 34.96C126.6 34.96 127.85 35.6 128.8 36.64C129.75 37.69 130.67 39.42 131.22 41.23C131.77 43.04 132.1 45.41 132.1 47.5Z" fill="#48cb86"/>
<path d="M129.1 47.5C129.1 48.64 128.92 49.93 128.62 50.92C128.32 51.91 127.82 52.85 127.3 53.42C126.78 53.99 126.1 54.34 125.5 54.34C124.9 54.34 124.22 53.99 123.7 53.42C123.18 52.85 122.68 51.91 122.38 50.92C122.08 49.93 121.9 48.64 121.9 47.5C121.9 46.36 122.08 45.07 122.38 44.08C122.68 43.09 123.18 42.15 123.7 41.58C124.22 41.01 124.9 40.66 125.5 40.66C126.1 40.66 126.78 41.01 127.3 41.58C127.82 42.15 128.32 43.09 128.62 44.08C128.92 45.07 129.1 46.36 129.1 47.5Z" fill="#81cc59"/>
<path d="M127.1 47.5C127.1 48.01 127.02 48.58 126.89 49.02C126.75 49.46 126.53 49.88 126.3 50.13C126.07 50.39 125.77 50.54 125.5 50.54C125.23 50.54 124.93 50.39 124.7 50.13C124.47 49.88 124.25 49.46 124.11 49.02C123.98 48.58 123.9 48.01 123.9 47.5C123.9 46.99 123.98 46.42 124.11 45.98C124.25 45.54 124.47 45.12 124.7 44.87C124.93 44.61 125.23 44.46 125.5 44.46C125.77 44.46 126.07 44.61 126.3 44.87C126.53 45.12 126.75 45.54 126.89 45.98C127.02 46.42 127.1 46.99 127.1 47.5Z" fill="#bbc42f"/>
<path d="M56.3 76.5C56.3 77.91 55.98 79.59 55.5 80.73C55.01 81.87 54.18 82.91 53.4 83.35C52.62 83.78 51.58 83.78 50.8 83.35C50.02 82.91 49.19 81.87 48.7 80.73C48.22 79.59 47.9 77.91 47.9 76.5C47.9 75.09 48.22 73.41 48.7 72.27C49.19 71.13 50.02 70.09 50.8 69.65C51.58 69.22 52.62 69.22 53.4 69.65C54.18 70.09 55.01 71.13 55.5 72.27C55.98 73.41 56.3 75.09 56.3 76.5Z" fill="#31c5a1"/>
</g>
<path d="M35.6 109.7 L35.6 63.3 L49.5 63.3 L49.5 26.6 L57.4 26.6 L57.4 21.2 L65 21.9 L78 25.4 L100 34.4 L117 41.5 L122.9 44.7 L124.6 48 L125 50.7 L124.5 57 L123.4 62.7 L120.2 79.3 L104 79.3 L86 109.7Z" fill="none" stroke="#222" stroke-opacity=".55" stroke-width=".35"/>
<path d="M49.5 48.3H103.5V79.3" fill="none" stroke="#222" stroke-opacity=".45" stroke-width=".3"/>
<text class="b" x="77.7" y="32.6" text-anchor="middle">C-BH-1</text>
<text class="b" x="62.7" y="38.4" text-anchor="middle">C-BH-4</text>
<text class="b" x="88.4" y="37.8" text-anchor="middle">C-BH-2</text>
<text class="b" x="103.6" y="38.4" text-anchor="middle">C-BH-3</text>
<text class="b" x="77.7" y="46.5" text-anchor="middle">C-BH-5</text>
<text class="b" x="74.8" y="50.8" text-anchor="middle">A-BH-1</text>
<text class="b" x="95.6" y="47.1" text-anchor="middle">C-BH-6</text>
<text class="b" x="112.3" y="47.1" text-anchor="middle">C-BH-7</text>
<text class="b" x="125.3" y="47.1" text-anchor="middle">C-BH-8</text>
<text class="b" x="84.9" y="56.5" text-anchor="middle">B-BH-1</text>
<text class="b" x="100.2" y="58" text-anchor="middle">B-BH-3</text>
<text class="b" x="93.5" y="61.5" text-anchor="middle">B-BH-2</text>
<text class="b" x="56" y="58.5" text-anchor="middle">A-BH-2</text>
<text class="b" x="126" y="60.9" text-anchor="middle">C-BH-10</text>
<text class="b" x="116.6" y="64.4" text-anchor="middle">C-BH-9</text>
<text class="b" x="41.6" y="65.8" text-anchor="middle">A-BH-4</text>
<text class="b" x="122.4" y="73" text-anchor="middle">C-BH-11</text>
<text class="b" x="87" y="75.3" text-anchor="middle">B-BH-4</text>
<text class="b" x="102.2" y="75.3" text-anchor="middle">B-BH-6</text>
<text class="b" x="91.5" y="79.6" text-anchor="middle">B-BH-5</text>
<text class="b" x="51.2" y="79.6" text-anchor="middle">A-BH-6</text>
<text class="b" x="41.6" y="86.9" text-anchor="middle">A-BH-7</text>
<text class="b" x="76.2" y="86" text-anchor="middle">A-BH-9</text>
<text class="b" x="94.4" y="87.4" text-anchor="middle">B-BH-8</text>
<text class="b" x="58.9" y="89.7" text-anchor="middle">A-BH-8</text>
<text class="b" x="80.6" y="92.6" text-anchor="middle">B-BH-7</text>
<text class="b" x="108" y="89.7" text-anchor="middle">B-BH-12</text>
<text class="b" x="113.7" y="94.1" text-anchor="middle">IC-BH-12</text>
<text class="b" x="76.2" y="97.5" text-anchor="middle">B-BH-9</text>
<text class="b" x="93.5" y="97.5" text-anchor="middle">B-BH-10</text>
<text class="b" x="43.6" y="103.9" text-anchor="middle">A-BH-12</text>
<text class="b" x="77.1" y="103.9" text-anchor="middle">A-BH-10</text>
<text class="b" x="60.4" y="109.1" text-anchor="middle">A-BH-11</text>
<text class="b" x="89.2" y="107.6" text-anchor="middle">B-BH-11</text>
</g>
<g transform="translate(120 143.8)">
<path d="M32 14.4V115.2H134.8" fill="none" stroke="#cfcfcf" stroke-width=".7"/>
<text class="k" transform="translate(37.4 123.2) scale(.1)" text-anchor="middle">3000</text>
<text class="k" transform="translate(55.6 123.2) scale(.1)" text-anchor="middle">3500</text>
<text class="k" transform="translate(73.8 123.2) scale(.1)" text-anchor="middle">4000</text>
<text class="k" transform="translate(92 123.2) scale(.1)" text-anchor="middle">4500</text>
<text class="k" transform="translate(110.2 123.2) scale(.1)" text-anchor="middle">5000</text>
<text class="k" transform="translate(128.4 123.2) scale(.1)" text-anchor="middle">5500</text>
<text class="k" transform="translate(29.6 32.1) scale(.1)" text-anchor="end">2000</text>
<text class="k" transform="translate(29.6 54.4) scale(.1)" text-anchor="end">1500</text>
<text class="k" transform="translate(29.6 76.7) scale(.1)" text-anchor="end">1000</text>
<text class="k" transform="translate(29.6 99) scale(.1)" text-anchor="end">500</text>
<text class="t" x="77.4" y="12.6" font-size="8.3" text-anchor="middle">GWL_GPR_EDF_90</text>
<text class="t" x="77" y="132.7" font-size="6.7" text-anchor="middle" style="stroke:#111;stroke-width:.14px">X-Coordinate</text>
<text class="t" x="77.2" y="144" font-size="8" text-anchor="middle">(b-2)</text>
<g class="c" clip-path="url(#site)">
<rect x="30" y="15" width="100" height="100" fill="#01b9c7" stroke="none"/>
<path d="M46.83 43.57C48.03 43.65 51.63 43.65 54.04 44.05C56.44 44.45 59.17 43.16 61.25 45.97C63.33 48.77 65.42 55.18 66.54 60.87C67.66 66.56 68.18 74.09 67.98 80.1C67.78 86.11 66.46 91.32 65.34 96.93C64.21 102.54 61.93 110.95 61.25 113.76L30 113.76L30 43.57Z" fill="#15beb8"/>
<path d="M46.83 51.26C47.83 51.18 51.03 50.7 52.84 50.78C54.64 50.86 56.08 49.66 57.64 51.74C59.21 53.82 61.21 58.95 62.21 63.28C63.21 67.6 63.97 72.49 63.65 77.7C63.33 82.91 61.89 88.52 60.29 94.53C58.69 100.54 55.08 110.55 54.04 113.76L30 113.76L30 51.26Z" fill="#29c3aa"/>
<path d="M30 64.48C31.6 64.28 36.89 63.28 39.62 63.28C42.34 63.28 44.5 63.2 46.35 64.48C48.19 65.76 49.79 67.96 50.67 70.97C51.55 73.97 52.2 78.58 51.63 82.51C51.07 86.43 49.23 91.4 47.31 94.53C45.38 97.65 42.98 99.74 40.1 101.26C37.21 102.78 31.68 103.26 30 103.66L30 103.66Z" fill="#3ac796"/>
<path d="M114.04 74.86C114.53 81.82 113.89 89.78 112.36 95.94C110.83 102.1 107.99 108.1 104.85 111.82C101.71 115.53 97.43 117.95 93.52 118.23C89.61 118.5 85.03 116.7 81.41 113.46C77.78 110.22 74.13 104.67 71.76 98.78C69.38 92.9 67.64 85.09 67.16 78.14C66.67 71.18 67.31 63.22 68.84 57.06C70.37 50.9 73.21 44.9 76.35 41.18C79.49 37.47 83.77 35.05 87.68 34.77C91.59 34.5 96.17 36.3 99.79 39.54C103.42 42.78 107.07 48.33 109.44 54.22C111.82 60.1 113.56 67.91 114.04 74.86Z" fill="#12b0d6"/>
<path d="M111.15 75.06C111.58 81.16 111.02 88.15 109.68 93.54C108.33 98.94 105.84 104.2 103.09 107.46C100.34 110.72 96.58 112.84 93.16 113.08C89.73 113.32 85.72 111.74 82.54 108.9C79.36 106.06 76.16 101.19 74.08 96.03C72 90.87 70.48 84.03 70.05 77.94C69.62 71.84 70.18 64.85 71.52 59.46C72.87 54.06 75.36 48.8 78.11 45.54C80.86 42.28 84.62 40.16 88.04 39.92C91.47 39.68 95.48 41.26 98.66 44.1C101.84 46.94 105.04 51.81 107.12 56.97C109.2 62.13 110.72 68.97 111.15 75.06Z" fill="#1da9e0"/>
<path d="M108.36 75.26C108.73 80.53 108.24 86.56 107.08 91.23C105.92 95.89 103.77 100.44 101.39 103.25C99.01 106.06 95.77 107.9 92.81 108.11C89.85 108.31 86.38 106.95 83.64 104.49C80.89 102.04 78.13 97.84 76.33 93.38C74.53 88.92 73.21 83.01 72.84 77.74C72.47 72.47 72.96 66.44 74.12 61.77C75.28 57.11 77.43 52.56 79.81 49.75C82.19 46.94 85.43 45.1 88.39 44.89C91.35 44.69 94.82 46.05 97.56 48.51C100.31 50.96 103.07 55.16 104.87 59.62C106.67 64.08 107.99 69.99 108.36 75.26Z" fill="#21a2e4"/>
<path d="M105.76 75.44C106.08 79.94 105.67 85.09 104.68 89.08C103.68 93.06 101.85 96.94 99.82 99.34C97.78 101.75 95.01 103.31 92.49 103.49C89.96 103.67 87 102.5 84.65 100.4C82.31 98.31 79.95 94.72 78.41 90.91C76.88 87.11 75.75 82.06 75.44 77.56C75.12 73.06 75.53 67.91 76.52 63.92C77.52 59.94 79.35 56.06 81.38 53.66C83.42 51.25 86.19 49.69 88.71 49.51C91.24 49.33 94.2 50.5 96.55 52.6C98.89 54.69 101.25 58.28 102.79 62.09C104.32 65.89 105.45 70.94 105.76 75.44Z" fill="#249be8"/>
<path d="M103.37 75.61C103.63 79.4 103.29 83.74 102.45 87.09C101.62 90.45 100.07 93.71 98.36 95.74C96.65 97.76 94.32 99.08 92.19 99.23C90.06 99.38 87.57 98.4 85.59 96.63C83.62 94.86 81.63 91.84 80.34 88.64C79.04 85.43 78.1 81.18 77.83 77.39C77.57 73.6 77.91 69.26 78.75 65.91C79.58 62.55 81.13 59.29 82.84 57.26C84.55 55.24 86.88 53.92 89.01 53.77C91.14 53.62 93.63 54.6 95.61 56.37C97.58 58.14 99.57 61.16 100.86 64.36C102.16 67.57 103.1 71.82 103.37 75.61Z" fill="#2895ec"/>
<path d="M101.07 75.77C101.29 78.87 101.01 82.44 100.32 85.19C99.64 87.94 98.37 90.62 96.97 92.28C95.56 93.94 93.65 95.02 91.9 95.14C90.16 95.27 88.11 94.46 86.49 93.01C84.87 91.56 83.24 89.09 82.18 86.46C81.12 83.83 80.34 80.34 80.13 77.23C79.91 74.13 80.19 70.56 80.88 67.81C81.56 65.06 82.83 62.38 84.23 60.72C85.64 59.06 87.55 57.98 89.3 57.86C91.04 57.73 93.09 58.54 94.71 59.99C96.33 61.44 97.96 63.91 99.02 66.54C100.08 69.17 100.86 72.66 101.07 75.77Z" fill="#2a8ef1"/>
<path d="M98.98 75.91C99.15 78.4 98.93 81.25 98.38 83.45C97.83 85.65 96.82 87.8 95.69 89.12C94.57 90.45 93.04 91.32 91.64 91.42C90.25 91.51 88.61 90.87 87.31 89.71C86.02 88.55 84.71 86.57 83.86 84.47C83.02 82.36 82.39 79.57 82.22 77.09C82.05 74.6 82.27 71.75 82.82 69.55C83.37 67.35 84.38 65.2 85.51 63.88C86.63 62.55 88.16 61.68 89.56 61.58C90.95 61.49 92.59 62.13 93.89 63.29C95.18 64.45 96.49 66.43 97.34 68.53C98.18 70.64 98.81 73.43 98.98 75.91Z" fill="#2d87f5"/>
<path d="M96.98 76.05C97.12 77.95 96.94 80.12 96.53 81.8C96.11 83.47 95.34 85.11 94.48 86.12C93.63 87.13 92.46 87.79 91.39 87.86C90.33 87.94 89.08 87.45 88.1 86.56C87.11 85.68 86.12 84.17 85.47 82.57C84.82 80.97 84.35 78.84 84.22 76.95C84.08 75.05 84.26 72.88 84.67 71.2C85.09 69.53 85.86 67.89 86.72 66.88C87.57 65.87 88.74 65.21 89.81 65.14C90.87 65.06 92.12 65.55 93.1 66.44C94.09 67.32 95.08 68.83 95.73 70.43C96.38 72.03 96.85 74.16 96.98 76.05Z" fill="#2f81fa"/>
<path d="M94.99 76.19C95.08 77.5 94.96 78.99 94.67 80.14C94.39 81.29 93.86 82.42 93.27 83.11C92.68 83.81 91.88 84.26 91.15 84.31C90.41 84.36 89.56 84.03 88.88 83.42C88.2 82.81 87.52 81.77 87.07 80.67C86.63 79.57 86.3 78.11 86.21 76.81C86.12 75.5 86.24 74.01 86.53 72.86C86.81 71.71 87.34 70.58 87.93 69.89C88.52 69.19 89.32 68.74 90.05 68.69C90.79 68.64 91.64 68.97 92.32 69.58C93 70.19 93.68 71.23 94.13 72.33C94.57 73.43 94.9 74.89 94.99 76.19Z" fill="#2f80fa"/>
</g>
<path d="M35.6 109.7 L35.6 63.3 L49.5 63.3 L49.5 26.6 L57.4 26.6 L57.4 21.2 L65 21.9 L78 25.4 L100 34.4 L117 41.5 L122.9 44.7 L124.6 48 L125 50.7 L124.5 57 L123.4 62.7 L120.2 79.3 L104 79.3 L86 109.7Z" fill="none" stroke="#222" stroke-opacity=".55" stroke-width=".35"/>
<path d="M49.5 48.3H103.5V79.3" fill="none" stroke="#222" stroke-opacity=".45" stroke-width=".3"/>
<text class="b" x="77.7" y="32.6" text-anchor="middle">C-BH-1</text>
<text class="b" x="62.7" y="38.4" text-anchor="middle">C-BH-4</text>
<text class="b" x="88.4" y="37.8" text-anchor="middle">C-BH-2</text>
<text class="b" x="103.6" y="38.4" text-anchor="middle">C-BH-3</text>
<text class="b" x="77.7" y="46.5" text-anchor="middle">C-BH-5</text>
<text class="b" x="74.8" y="50.8" text-anchor="middle">A-BH-1</text>
<text class="b" x="95.6" y="47.1" text-anchor="middle">C-BH-6</text>
<text class="b" x="112.3" y="47.1" text-anchor="middle">C-BH-7</text>
<text class="b" x="125.3" y="47.1" text-anchor="middle">C-BH-8</text>
<text class="b" x="84.9" y="56.5" text-anchor="middle">B-BH-1</text>
<text class="b" x="100.2" y="58" text-anchor="middle">B-BH-3</text>
<text class="b" x="93.5" y="61.5" text-anchor="middle">B-BH-2</text>
<text class="b" x="56" y="58.5" text-anchor="middle">A-BH-2</text>
<text class="b" x="126" y="60.9" text-anchor="middle">C-BH-10</text>
<text class="b" x="116.6" y="64.4" text-anchor="middle">C-BH-9</text>
<text class="b" x="41.6" y="65.8" text-anchor="middle">A-BH-4</text>
<text class="b" x="122.4" y="73" text-anchor="middle">C-BH-11</text>
<text class="b" x="87" y="75.3" text-anchor="middle">B-BH-4</text>
<text class="b" x="102.2" y="75.3" text-anchor="middle">B-BH-6</text>
<text class="b" x="91.5" y="79.6" text-anchor="middle">B-BH-5</text>
<text class="b" x="51.2" y="79.6" text-anchor="middle">A-BH-6</text>
<text class="b" x="41.6" y="86.9" text-anchor="middle">A-BH-7</text>
<text class="b" x="76.2" y="86" text-anchor="middle">A-BH-9</text>
<text class="b" x="94.4" y="87.4" text-anchor="middle">B-BH-8</text>
<text class="b" x="58.9" y="89.7" text-anchor="middle">A-BH-8</text>
<text class="b" x="80.6" y="92.6" text-anchor="middle">B-BH-7</text>
<text class="b" x="108" y="89.7" text-anchor="middle">B-BH-12</text>
<text class="b" x="113.7" y="94.1" text-anchor="middle">IC-BH-12</text>
<text class="b" x="76.2" y="97.5" text-anchor="middle">B-BH-9</text>
<text class="b" x="93.5" y="97.5" text-anchor="middle">B-BH-10</text>
<text class="b" x="43.6" y="103.9" text-anchor="middle">A-BH-12</text>
<text class="b" x="77.1" y="103.9" text-anchor="middle">A-BH-10</text>
<text class="b" x="60.4" y="109.1" text-anchor="middle">A-BH-11</text>
<text class="b" x="89.2" y="107.6" text-anchor="middle">B-BH-11</text>
</g>
<g transform="translate(240 143.8)">
<path d="M32 14.4V115.2H134.8" fill="none" stroke="#cfcfcf" stroke-width=".7"/>
<text class="k" transform="translate(37.4 123.2) scale(.1)" text-anchor="middle">3000</text>
<text class="k" transform="translate(55.6 123.2) scale(.1)" text-anchor="middle">3500</text>
<text class="k" transform="translate(73.8 123.2) scale(.1)" text-anchor="middle">4000</text>
<text class="k" transform="translate(92 123.2) scale(.1)" text-anchor="middle">4500</text>
<text class="k" transform="translate(110.2 123.2) scale(.1)" text-anchor="middle">5000</text>
<text class="k" transform="translate(128.4 123.2) scale(.1)" text-anchor="middle">5500</text>
<text class="k" transform="translate(29.6 32.1) scale(.1)" text-anchor="end">2000</text>
<text class="k" transform="translate(29.6 54.4) scale(.1)" text-anchor="end">1500</text>
<text class="k" transform="translate(29.6 76.7) scale(.1)" text-anchor="end">1000</text>
<text class="k" transform="translate(29.6 99) scale(.1)" text-anchor="end">500</text>
<text class="t" x="77.4" y="12.6" font-size="8.3" text-anchor="middle">GWL_ANN_EDF_90</text>
<text class="t" x="77" y="132.7" font-size="6.7" text-anchor="middle" style="stroke:#111;stroke-width:.14px">X-Coordinate</text>
<text class="t" x="77.2" y="144" font-size="8" text-anchor="middle">(c-2)</text>
<g class="c" clip-path="url(#site)">
<rect x="30" y="15" width="100" height="100" fill="#0eb2d3" stroke="none"/>
<path d="M49.23 29.62C50.83 25.82 55.64 27.82 58.85 28.42C62.05 29.02 66.26 30.62 68.46 33.23C70.67 35.83 72.47 40.64 72.07 44.05C71.67 47.45 68.66 51.66 66.06 53.66C63.45 55.66 59.25 56.47 56.44 56.07C53.64 55.66 50.43 55.66 49.23 51.26C48.03 46.85 47.63 33.43 49.23 29.62Z" fill="#29c3aa"/>
<path d="M52.84 33.23C53.84 30.62 57.64 31.43 60.05 32.03C62.45 32.63 65.86 34.83 67.26 36.83C68.66 38.84 69.26 42.04 68.46 44.05C67.66 46.05 64.86 48.25 62.45 48.85C60.05 49.45 55.64 50.26 54.04 47.65C52.44 45.05 51.83 35.83 52.84 33.23Z" fill="#1caadf"/>
<path d="M35.29 87.32C36.81 85.31 40.9 87.72 44.42 89.72C47.95 91.72 52.44 95.73 56.44 99.33C60.45 102.94 70.46 109.35 68.46 111.35C66.46 113.36 49.95 112.96 44.42 111.35C38.89 109.75 36.81 105.74 35.29 101.74C33.77 97.73 33.77 89.32 35.29 87.32Z" fill="#29c3aa"/>
<path d="M35.29 94.53C36.41 91.92 39.29 94.33 42.02 95.73C44.74 97.13 48.83 100.34 51.63 102.94C54.44 105.54 61.57 109.95 58.85 111.35C56.12 112.76 39.21 114.16 35.29 111.35C31.36 108.55 34.17 97.13 35.29 94.53Z" fill="#1caadf"/>
<path d="M66.06 99.33C68.06 97.93 74.07 102.06 78.08 102.94C82.08 103.82 88.09 103.22 90.1 104.62C92.1 106.03 94.1 110.23 90.1 111.35C86.09 112.48 70.06 113.36 66.06 111.35C62.05 109.35 64.05 100.74 66.06 99.33Z" fill="#29c3aa"/>
<path d="M60.77 51.26C63.65 46.25 74.07 41.04 80.96 40.44C87.85 39.84 97.59 43.85 102.12 47.65C106.64 51.46 107.24 56.67 108.12 63.28C109.01 69.89 109.21 80.7 107.4 87.32C105.6 93.93 101.59 100.06 97.31 102.94C93.02 105.83 86.49 105.42 81.68 104.62C76.88 103.82 71.67 101.02 68.46 98.13C65.26 95.25 63.25 91.92 62.45 87.32C61.65 82.71 63.93 76.5 63.65 70.49C63.37 64.48 57.88 56.27 60.77 51.26Z" fill="#1caadf"/>
<path d="M63.17 53.66C65.66 48.97 74.79 43.89 80.96 43.57C87.13 43.24 96.27 48.45 100.19 51.74C104.12 55.02 104 57.75 104.52 63.28C105.04 68.81 104.92 78.9 103.32 84.91C101.71 90.92 98.51 96.61 94.9 99.33C91.3 102.06 85.69 101.98 81.68 101.26C77.68 100.54 73.55 97.53 70.87 95.01C68.18 92.48 66.38 90 65.58 86.11C64.78 82.23 66.46 77.1 66.06 71.69C65.66 66.28 60.69 58.35 63.17 53.66Z" fill="#2797eb"/>
<path d="M65.1 56.07C67.34 51.94 76.31 47.09 81.92 46.93C87.53 46.77 95.46 51.78 98.75 55.1C102.04 58.43 101.47 62.32 101.63 66.88C101.79 71.45 101.31 77.9 99.71 82.51C98.11 87.12 95.02 92.2 92.02 94.53C89.01 96.85 84.89 97.17 81.68 96.45C78.48 95.73 74.99 92.52 72.79 90.2C70.58 87.88 69.18 85.59 68.46 82.51C67.74 79.42 69.02 76.1 68.46 71.69C67.9 67.28 62.85 60.19 65.1 56.07Z" fill="#2f80fa"/>
<path d="M66.54 57.99C68.46 53.98 77.28 50.98 82.4 51.26C87.53 51.54 94.74 55.42 97.31 59.67C99.87 63.92 99.19 72.53 97.79 76.74C96.39 80.95 91.58 83.31 88.89 84.91C86.21 86.51 84.13 86.91 81.68 86.35C79.24 85.79 76.03 83.39 74.23 81.55C72.43 79.7 72.15 79.22 70.87 75.3C69.58 71.37 64.62 61.99 66.54 57.99Z" fill="#4367fd"/>
<path d="M68.46 58.95C70.1 55.95 78.08 53.86 82.4 54.38C86.73 54.9 92.5 58.75 94.42 62.08C96.35 65.4 95.87 71.65 93.94 74.33C92.02 77.02 86.45 78.5 82.88 78.18C79.32 77.86 74.95 75.62 72.55 72.41C70.14 69.21 66.82 61.95 68.46 58.95Z" fill="#484ff2"/>
<path d="M71.59 60.39C72.79 58.43 79.12 56.71 82.4 57.27C85.69 57.83 89.94 61.27 91.3 63.76C92.66 66.24 92.06 70.41 90.58 72.17C89.09 73.93 84.97 74.86 82.4 74.33C79.84 73.81 77 71.37 75.19 69.05C73.39 66.72 70.38 62.36 71.59 60.39Z" fill="#4538d7"/>
<path d="M75.67 62.32C76.47 61.11 80.68 59.99 82.88 60.39C85.09 60.79 87.97 63.12 88.89 64.72C89.82 66.32 89.42 68.93 88.41 70.01C87.41 71.09 84.61 71.61 82.88 71.21C81.16 70.81 79.28 69.09 78.08 67.6C76.87 66.12 74.87 63.52 75.67 62.32Z" fill="#3e26a8"/>
<path d="M82.17 94.38C81.97 94.93 81.34 95.45 80.58 95.68C79.82 95.91 78.65 95.94 77.62 95.76C76.6 95.58 75.33 95.12 74.43 94.6C73.53 94.08 72.65 93.3 72.22 92.64C71.78 91.97 71.63 91.17 71.83 90.62C72.03 90.07 72.66 89.55 73.42 89.32C74.18 89.09 75.35 89.06 76.38 89.24C77.4 89.42 78.67 89.88 79.57 90.4C80.47 90.92 81.35 91.7 81.78 92.36C82.22 93.03 82.37 93.83 82.17 94.38Z" fill="#4367fd"/>
<path d="M93.9 84.75C94.19 85.26 94.25 86.04 94.03 86.71C93.82 87.38 93.27 88.2 92.63 88.78C92 89.35 91.04 89.9 90.22 90.17C89.41 90.43 88.42 90.5 87.73 90.35C87.04 90.19 86.4 89.76 86.1 89.25C85.81 88.74 85.75 87.96 85.97 87.29C86.18 86.62 86.73 85.8 87.37 85.22C88 84.65 88.96 84.1 89.78 83.83C90.59 83.57 91.58 83.5 92.27 83.65C92.96 83.81 93.6 84.24 93.9 84.75Z" fill="#4367fd"/>
<path d="M58.1 47.5C59.11 47.51 61.16 49.43 61.68 51.01C62.21 52.6 60.74 52.82 61.25 57.01C61.77 61.2 63.79 71.32 64.77 76.14C65.75 80.97 67.49 83.81 67.13 85.95C66.76 88.09 64.91 89.35 62.58 88.99C60.25 88.62 55.93 86.16 53.16 83.77C50.39 81.37 46.65 78.52 45.96 74.63C45.26 70.73 47.36 64.35 48.98 60.4C50.6 56.45 54.14 53.1 55.66 50.95C57.18 48.8 57.1 47.49 58.1 47.5Z" fill="#29c3aa"/>
<path d="M58.1 48.9C59.02 48.91 60.93 50.81 61.39 52.38C61.85 53.96 60.45 54.57 60.86 58.35C61.28 62.13 62.95 70.66 63.89 75.06C64.83 79.45 66.77 82.61 66.5 84.7C66.23 86.79 64.45 88 62.29 87.62C60.14 87.24 56.09 84.71 53.57 82.43C51.05 80.15 47.76 77.47 47.18 73.95C46.59 70.42 48.62 64.89 50.06 61.29C51.51 57.69 54.52 54.4 55.86 52.34C57.2 50.27 57.18 48.89 58.1 48.9Z" fill="#48cb86"/>
<path d="M58.1 50.3C58.94 50.3 60.71 52.19 61.1 53.75C61.49 55.32 60.15 56.33 60.47 59.7C60.79 63.06 62.11 70.01 63.01 73.97C63.91 77.93 66.04 81.4 65.87 83.45C65.71 85.49 63.98 86.64 62 86.25C60.02 85.85 56.25 83.26 53.99 81.09C51.72 78.93 48.88 76.42 48.4 73.27C47.93 70.11 49.87 65.43 51.15 62.18C52.42 58.92 54.9 55.7 56.06 53.72C57.22 51.74 57.26 50.3 58.1 50.3Z" fill="#81cc59"/>
<path d="M58.1 51.8C58.85 51.8 60.46 53.66 60.79 55.22C61.11 56.78 59.84 58.21 60.05 61.14C60.26 64.07 61.21 69.31 62.07 72.8C62.92 76.29 65.27 80.11 65.2 82.1C65.14 84.1 63.48 85.19 61.69 84.78C59.89 84.37 56.43 81.7 54.43 79.66C52.44 77.62 50.07 75.29 49.71 72.54C49.36 69.78 51.21 66.02 52.3 63.13C53.4 60.24 55.31 57.1 56.27 55.21C57.24 53.32 57.35 51.8 58.1 51.8Z" fill="#a4c740"/>
<path d="M58.1 52.7C58.8 52.7 60.32 54.55 60.6 56.1C60.88 57.65 59.65 59.33 59.8 62C59.95 64.67 60.67 68.88 61.5 72.1C62.33 75.32 64.8 79.33 64.8 81.3C64.8 83.27 63.18 84.32 61.5 83.9C59.82 83.48 56.53 80.77 54.7 78.8C52.87 76.83 50.78 74.62 50.5 72.1C50.22 69.58 52.02 66.37 53 63.7C53.98 61.03 55.55 57.93 56.4 56.1C57.25 54.27 57.4 52.7 58.1 52.7Z" fill="#cec030"/>
<path d="M61 23.6C62.42 23.72 66.63 23.48 69.5 24.3C72.37 25.12 75.32 26.85 78.2 28.5C81.08 30.15 84.63 32.17 86.8 34.2C88.97 36.23 90.12 38.53 91.2 40.7C92.28 42.87 92.95 46.12 93.3 47.2" fill="none" style="stroke:#29c3aa;stroke-width:6.8;stroke-opacity:1;stroke-linecap:round"/>
<path d="M61 23.6C62.42 23.72 66.63 23.48 69.5 24.3C72.37 25.12 75.32 26.85 78.2 28.5C81.08 30.15 84.63 32.17 86.8 34.2C88.97 36.23 90.12 38.53 91.2 40.7C92.28 42.87 92.95 46.12 93.3 47.2" fill="none" style="stroke:#48cb86;stroke-width:5.2;stroke-opacity:1;stroke-linecap:round"/>
<path d="M61 23.6C62.42 23.72 66.63 23.48 69.5 24.3C72.37 25.12 75.32 26.85 78.2 28.5C81.08 30.15 84.63 32.17 86.8 34.2C88.97 36.23 90.12 38.53 91.2 40.7C92.28 42.87 92.95 46.12 93.3 47.2" fill="none" style="stroke:#81cc59;stroke-width:3.9;stroke-opacity:1;stroke-linecap:round"/>
<path d="M61 23.6C62.42 23.72 66.63 23.48 69.5 24.3C72.37 25.12 75.32 26.85 78.2 28.5C81.08 30.15 84.63 32.17 86.8 34.2C88.97 36.23 90.12 38.53 91.2 40.7C92.28 42.87 92.95 46.12 93.3 47.2" fill="none" style="stroke:#bbc42f;stroke-width:2.7;stroke-opacity:1;stroke-linecap:round"/>
<path d="M61 23.6C62.42 23.72 66.63 23.48 69.5 24.3C72.37 25.12 75.32 26.85 78.2 28.5C81.08 30.15 84.63 32.17 86.8 34.2C88.97 36.23 90.12 38.53 91.2 40.7C92.28 42.87 92.95 46.12 93.3 47.2" fill="none" style="stroke:#fec735;stroke-width:1.5;stroke-opacity:1;stroke-linecap:round"/>
</g>
<path d="M35.6 109.7 L35.6 63.3 L49.5 63.3 L49.5 26.6 L57.4 26.6 L57.4 21.2 L65 21.9 L78 25.4 L100 34.4 L117 41.5 L122.9 44.7 L124.6 48 L125 50.7 L124.5 57 L123.4 62.7 L120.2 79.3 L104 79.3 L86 109.7Z" fill="none" stroke="#222" stroke-opacity=".55" stroke-width=".35"/>
<path d="M49.5 48.3H103.5V79.3" fill="none" stroke="#222" stroke-opacity=".45" stroke-width=".3"/>
<text class="b" x="77.7" y="32.6" text-anchor="middle">C-BH-1</text>
<text class="b" x="62.7" y="38.4" text-anchor="middle">C-BH-4</text>
<text class="b" x="88.4" y="37.8" text-anchor="middle">C-BH-2</text>
<text class="b" x="103.6" y="38.4" text-anchor="middle">C-BH-3</text>
<text class="b" x="77.7" y="46.5" text-anchor="middle">C-BH-5</text>
<text class="b" x="74.8" y="50.8" text-anchor="middle">A-BH-1</text>
<text class="b" x="95.6" y="47.1" text-anchor="middle">C-BH-6</text>
<text class="b" x="112.3" y="47.1" text-anchor="middle">C-BH-7</text>
<text class="b" x="125.3" y="47.1" text-anchor="middle">C-BH-8</text>
<text class="b" x="84.9" y="56.5" text-anchor="middle">B-BH-1</text>
<text class="b" x="100.2" y="58" text-anchor="middle">B-BH-3</text>
<text class="b" x="93.5" y="61.5" text-anchor="middle">B-BH-2</text>
<text class="b" x="56" y="58.5" text-anchor="middle">A-BH-2</text>
<text class="b" x="126" y="60.9" text-anchor="middle">C-BH-10</text>
<text class="b" x="116.6" y="64.4" text-anchor="middle">C-BH-9</text>
<text class="b" x="41.6" y="65.8" text-anchor="middle">A-BH-4</text>
<text class="b" x="122.4" y="73" text-anchor="middle">C-BH-11</text>
<text class="b" x="87" y="75.3" text-anchor="middle">B-BH-4</text>
<text class="b" x="102.2" y="75.3" text-anchor="middle">B-BH-6</text>
<text class="b" x="91.5" y="79.6" text-anchor="middle">B-BH-5</text>
<text class="b" x="51.2" y="79.6" text-anchor="middle">A-BH-6</text>
<text class="b" x="41.6" y="86.9" text-anchor="middle">A-BH-7</text>
<text class="b" x="76.2" y="86" text-anchor="middle">A-BH-9</text>
<text class="b" x="94.4" y="87.4" text-anchor="middle">B-BH-8</text>
<text class="b" x="58.9" y="89.7" text-anchor="middle">A-BH-8</text>
<text class="b" x="80.6" y="92.6" text-anchor="middle">B-BH-7</text>
<text class="b" x="108" y="89.7" text-anchor="middle">B-BH-12</text>
<text class="b" x="113.7" y="94.1" text-anchor="middle">IC-BH-12</text>
<text class="b" x="76.2" y="97.5" text-anchor="middle">B-BH-9</text>
<text class="b" x="93.5" y="97.5" text-anchor="middle">B-BH-10</text>
<text class="b" x="43.6" y="103.9" text-anchor="middle">A-BH-12</text>
<text class="b" x="77.1" y="103.9" text-anchor="middle">A-BH-10</text>
<text class="b" x="60.4" y="109.1" text-anchor="middle">A-BH-11</text>
<text class="b" x="89.2" y="107.6" text-anchor="middle">B-BH-11</text>
</g>
<g transform="translate(0 290.6)">
<path d="M32 14.4V115.2H134.8" fill="none" stroke="#cfcfcf" stroke-width=".7"/>
<text class="k" transform="translate(37.4 123.2) scale(.1)" text-anchor="middle">3000</text>
<text class="k" transform="translate(55.6 123.2) scale(.1)" text-anchor="middle">3500</text>
<text class="k" transform="translate(73.8 123.2) scale(.1)" text-anchor="middle">4000</text>
<text class="k" transform="translate(92 123.2) scale(.1)" text-anchor="middle">4500</text>
<text class="k" transform="translate(110.2 123.2) scale(.1)" text-anchor="middle">5000</text>
<text class="k" transform="translate(128.4 123.2) scale(.1)" text-anchor="middle">5500</text>
<text class="k" transform="translate(29.6 32.1) scale(.1)" text-anchor="end">2000</text>
<text class="k" transform="translate(29.6 54.4) scale(.1)" text-anchor="end">1500</text>
<text class="k" transform="translate(29.6 76.7) scale(.1)" text-anchor="end">1000</text>
<text class="k" transform="translate(29.6 99) scale(.1)" text-anchor="end">500</text>
<text class="t" x="77.4" y="12" font-size="8.3" text-anchor="middle">SPTN_SVM_EDF_80</text>
<text class="t" font-size="6.7" text-anchor="middle" style="stroke:#111;stroke-width:.14px" transform="translate(14.2 69) rotate(-90)">Y-Coordinate</text>
<g class="c" clip-path="url(#site)">
<rect x="30" y="15" width="100" height="100" fill="#3d29b2" stroke="none"/>
<path d="M120.5 40C120.67 40.5 121.67 40.33 121.5 43C121.33 45.67 120.25 52.33 119.5 56C118.75 59.67 118.42 62.17 117 65C115.58 67.83 113 70.58 111 73C109 75.42 106.17 78 105 79.5C103.83 81 104.17 81.58 104 82L140 82L140 40Z" fill="#4646e6"/>
<path d="M123 43C123.08 43.5 123.67 43.5 123.5 46C123.33 48.5 122.67 54.33 122 58C121.33 61.67 120.67 65.17 119.5 68C118.33 70.83 116.33 73.08 115 75C113.67 76.92 112.25 78.33 111.5 79.5C110.75 80.67 110.67 81.58 110.5 82L140 82L140 43Z" fill="#347afd"/>
<path d="M124.3 47C124.3 47.33 124.52 46.83 124.3 49C124.08 51.17 123.55 56.67 123 60C122.45 63.33 121.92 66.42 121 69C120.08 71.58 118.58 73.75 117.5 75.5C116.42 77.25 115.17 78.42 114.5 79.5C113.83 80.58 113.67 81.58 113.5 82L140 82L140 47Z" fill="#21a3e3"/>
<path d="M124.8 50C124.77 50.33 124.82 50 124.6 52C124.38 54 124.02 59 123.5 62C122.98 65 122.33 67.67 121.5 70C120.67 72.33 119.42 74.42 118.5 76C117.58 77.58 116.52 78.5 116 79.5C115.48 80.5 115.5 81.58 115.4 82L140 82L140 50Z" fill="#5ccc76"/>
<path d="M123.6 63C123.5 63.42 123.38 64.25 123 65.5C122.62 66.75 122.05 68.83 121.3 70.5C120.55 72.17 119.42 74 118.5 75.5C117.58 77 116.35 78.42 115.8 79.5C115.25 80.58 115.3 81.58 115.2 82L140 82L140 63Z" fill="#f9fb15"/>
<path d="M102.1 62.6C102.1 63.78 101.6 65.18 100.84 66.13C100.08 67.08 98.77 67.94 97.54 68.31C96.31 68.67 94.69 68.67 93.46 68.31C92.23 67.94 90.92 67.08 90.16 66.13C89.4 65.18 88.9 63.78 88.9 62.6C88.9 61.42 89.4 60.02 90.16 59.07C90.92 58.12 92.23 57.26 93.46 56.89C94.69 56.53 96.31 56.53 97.54 56.89C98.77 57.26 100.08 58.12 100.84 59.07C101.6 60.02 102.1 61.42 102.1 62.6Z" fill="#4646e6"/>
<path d="M57.4 26C57.17 28.67 56.82 31.33 56 34C55.18 36.67 53.62 39.33 52.5 42C51.38 44.67 49.92 47.33 49.3 50C48.68 52.67 48.52 55.5 48.8 58C49.08 60.5 49.97 63 51 65C52.03 67 53.75 68.92 55 70C56.25 71.08 57.25 71.5 58.5 71.5C59.75 71.5 61.25 71.08 62.5 70C63.75 68.92 65.17 67.17 66 65C66.83 62.83 67.28 59.83 67.5 57C67.72 54.17 67.38 50.83 67.3 48C67.22 45.17 66.8 42.5 67 40C67.2 37.5 67.67 35 68.5 33C69.33 31 70.92 30.5 72 28C73.08 25.5 77.43 19.67 75 18C72.57 16.33 60.33 16.67 57.4 18C54.47 19.33 57.63 23.33 57.4 26Z" fill="#3e5df0"/>
<path d="M57.4 32.2C58.83 32.03 62.57 31.39 66 31.17C69.43 30.95 74 30.71 78 30.9C82 31.09 86.83 31.92 90 32.3C93.17 32.68 95.83 33.02 97 33.17L97 10L57.4 10Z" fill="#3e5df0"/>
<path d="M58.5 26C58.42 28.67 58.58 31.33 58 34C57.42 36.67 56 39.33 55 42C54 44.67 52.53 47.33 52 50C51.47 52.67 51.47 55.67 51.8 58C52.13 60.33 52.97 62.5 54 64C55.03 65.5 56.67 66.92 58 67C59.33 67.08 60.95 66 62 64.5C63.05 63 63.88 60.42 64.3 58C64.72 55.58 64.63 52.67 64.5 50C64.37 47.33 63.62 44.67 63.5 42C63.38 39.33 63.38 36.33 63.8 34C64.22 31.67 65.47 30.67 66 28C66.53 25.33 68.25 19.67 67 18C65.75 16.33 59.92 16.67 58.5 18C57.08 19.33 58.58 23.33 58.5 26Z" fill="#347afd"/>
<path d="M57.4 29.7C58.83 29.71 62.57 29.75 66 29.77C69.43 29.79 74.33 29.6 78 29.8C81.67 30 85.33 30.63 88 30.98C90.67 31.34 93 31.78 94 31.94L94 10L57.4 10Z" fill="#347afd"/>
<path d="M62.6 53.5C62.6 54.92 62.36 56.52 61.96 57.75C61.56 58.98 60.89 60.15 60.2 60.86C59.51 61.57 58.6 62 57.8 62C57 62 56.09 61.57 55.4 60.86C54.71 60.15 54.04 58.98 53.64 57.75C53.24 56.52 53 54.92 53 53.5C53 52.08 53.24 50.48 53.64 49.25C54.04 48.02 54.71 46.85 55.4 46.14C56.09 45.43 57 45 57.8 45C58.6 45 59.51 45.43 60.2 46.14C60.89 46.85 61.56 48.02 61.96 49.25C62.36 50.48 62.6 52.08 62.6 53.5Z" fill="#21a3e3"/>
<path d="M57.4 26.2C58.83 26.46 62.57 27.37 66 27.77C69.43 28.17 74.67 28.28 78 28.6C81.33 28.92 83.83 29.32 86 29.67C88.17 30.02 90.17 30.54 91 30.71L91 10L57.4 10Z" fill="#21a3e3"/>
<path d="M60.3 54.5C60.3 55.19 60.11 56 59.82 56.56C59.53 57.11 59.04 57.62 58.57 57.83C58.11 58.04 57.49 58.04 57.03 57.83C56.56 57.62 56.07 57.11 55.78 56.56C55.49 56 55.3 55.19 55.3 54.5C55.3 53.81 55.49 53 55.78 52.44C56.07 51.89 56.56 51.38 57.03 51.17C57.49 50.96 58.11 50.96 58.57 51.17C59.04 51.38 59.53 51.89 59.82 52.44C60.11 53 60.3 53.81 60.3 54.5Z" fill="#12beb9"/>
<path d="M57.4 24C58.83 24.41 62.9 25.93 66 26.47C69.1 27.01 73 26.91 76 27.26C79 27.61 82 28.18 84 28.55C86 28.92 87.33 29.33 88 29.48L88 10L57.4 10Z" fill="#12beb9"/>
<path d="M57.4 22.1C57.83 22.31 58.57 22.78 60 23.34C61.43 23.9 63.5 24.96 66 25.47C68.5 25.98 72.33 26.05 75 26.39C77.67 26.74 80.17 27.15 82 27.53C83.83 27.91 85.33 28.48 86 28.67L86 10L57.4 10Z" fill="#5ccc76"/>
<path d="M60 21.44C60.5 21.72 61.67 22.52 63 23.12C64.33 23.71 66.17 24.57 68 25.01C69.83 25.44 72 25.44 74 25.72C76 26.01 78.33 26.36 80 26.72C81.67 27.07 83.33 27.66 84 27.85L84 10L60 10Z" fill="#f9fb15"/>
</g>
<path d="M35.6 109.7 L35.6 63.3 L49.5 63.3 L49.5 26.6 L57.4 26.6 L57.4 21.2 L65 21.9 L78 25.4 L100 34.4 L117 41.5 L122.9 44.7 L124.6 48 L125 50.7 L124.5 57 L123.4 62.7 L120.2 79.3 L104 79.3 L86 109.7Z" fill="none" stroke="#222" stroke-opacity=".55" stroke-width=".35"/>
<path d="M49.5 48.3H103.5V79.3" fill="none" stroke="#222" stroke-opacity=".45" stroke-width=".3"/>
<text class="b" x="77.7" y="32.6" text-anchor="middle">C-BH-1</text>
<text class="b" x="62.7" y="38.4" text-anchor="middle">C-BH-4</text>
<text class="b" x="88.4" y="37.8" text-anchor="middle">C-BH-2</text>
<text class="b" x="103.6" y="38.4" text-anchor="middle">C-BH-3</text>
<text class="b" x="77.7" y="46.5" text-anchor="middle">C-BH-5</text>
<text class="b" x="74.8" y="50.8" text-anchor="middle">A-BH-1</text>
<text class="b" x="95.6" y="47.1" text-anchor="middle">C-BH-6</text>
<text class="b" x="112.3" y="47.1" text-anchor="middle">C-BH-7</text>
<text class="b" x="125.3" y="47.1" text-anchor="middle">C-BH-8</text>
<text class="b" x="84.9" y="56.5" text-anchor="middle">B-BH-1</text>
<text class="b" x="100.2" y="58" text-anchor="middle">B-BH-3</text>
<text class="b" x="93.5" y="61.5" text-anchor="middle">B-BH-2</text>
<text class="b" x="56" y="58.5" text-anchor="middle">A-BH-2</text>
<text class="b" x="126" y="60.9" text-anchor="middle">C-BH-10</text>
<text class="b" x="116.6" y="64.4" text-anchor="middle">C-BH-9</text>
<text class="b" x="41.6" y="65.8" text-anchor="middle">A-BH-4</text>
<text class="b" x="122.4" y="73" text-anchor="middle">C-BH-11</text>
<text class="b" x="87" y="75.3" text-anchor="middle">B-BH-4</text>
<text class="b" x="102.2" y="75.3" text-anchor="middle">B-BH-6</text>
<text class="b" x="91.5" y="79.6" text-anchor="middle">B-BH-5</text>
<text class="b" x="51.2" y="79.6" text-anchor="middle">A-BH-6</text>
<text class="b" x="41.6" y="86.9" text-anchor="middle">A-BH-7</text>
<text class="b" x="76.2" y="86" text-anchor="middle">A-BH-9</text>
<text class="b" x="94.4" y="87.4" text-anchor="middle">B-BH-8</text>
<text class="b" x="58.9" y="89.7" text-anchor="middle">A-BH-8</text>
<text class="b" x="80.6" y="92.6" text-anchor="middle">B-BH-7</text>
<text class="b" x="108" y="89.7" text-anchor="middle">B-BH-12</text>
<text class="b" x="113.7" y="94.1" text-anchor="middle">IC-BH-12</text>
<text class="b" x="76.2" y="97.5" text-anchor="middle">B-BH-9</text>
<text class="b" x="93.5" y="97.5" text-anchor="middle">B-BH-10</text>
<text class="b" x="43.6" y="103.9" text-anchor="middle">A-BH-12</text>
<text class="b" x="77.1" y="103.9" text-anchor="middle">A-BH-10</text>
<text class="b" x="60.4" y="109.1" text-anchor="middle">A-BH-11</text>
<text class="b" x="89.2" y="107.6" text-anchor="middle">B-BH-11</text>
<g clip-path="url(#site)">
<text class="w" x="88.4" y="37.8" text-anchor="middle">C-BH-2</text>
<text class="w" x="77.7" y="46.5" text-anchor="middle">C-BH-5</text>
<text class="w" x="74.8" y="50.8" text-anchor="middle">A-BH-1</text>
<text class="w" x="95.6" y="47.1" text-anchor="middle">C-BH-6</text>
<text class="w" x="112.3" y="47.1" text-anchor="middle">C-BH-7</text>
<text class="w" x="125.3" y="47.1" text-anchor="middle">C-BH-8</text>
<text class="w" x="84.9" y="56.5" text-anchor="middle">B-BH-1</text>
<text class="w" x="100.2" y="58" text-anchor="middle">B-BH-3</text>
<text class="w" x="93.5" y="61.5" text-anchor="middle">B-BH-2</text>
<text class="w" x="56" y="58.5" text-anchor="middle">A-BH-2</text>
<text class="w" x="126" y="60.9" text-anchor="middle">C-BH-10</text>
<text class="w" x="116.6" y="64.4" text-anchor="middle">C-BH-9</text>
<text class="w" x="41.6" y="65.8" text-anchor="middle">A-BH-4</text>
<text class="w" x="122.4" y="73" text-anchor="middle">C-BH-11</text>
<text class="w" x="87" y="75.3" text-anchor="middle">B-BH-4</text>
<text class="w" x="102.2" y="75.3" text-anchor="middle">B-BH-6</text>
<text class="w" x="91.5" y="79.6" text-anchor="middle">B-BH-5</text>
<text class="w" x="51.2" y="79.6" text-anchor="middle">A-BH-6</text>
<text class="w" x="41.6" y="86.9" text-anchor="middle">A-BH-7</text>
<text class="w" x="76.2" y="86" text-anchor="middle">A-BH-9</text>
<text class="w" x="94.4" y="87.4" text-anchor="middle">B-BH-8</text>
<text class="w" x="58.9" y="89.7" text-anchor="middle">A-BH-8</text>
<text class="w" x="80.6" y="92.6" text-anchor="middle">B-BH-7</text>
<text class="w" x="108" y="89.7" text-anchor="middle">B-BH-12</text>
<text class="w" x="113.7" y="94.1" text-anchor="middle">IC-BH-12</text>
<text class="w" x="76.2" y="97.5" text-anchor="middle">B-BH-9</text>
<text class="w" x="93.5" y="97.5" text-anchor="middle">B-BH-10</text>
<text class="w" x="43.6" y="103.9" text-anchor="middle">A-BH-12</text>
<text class="w" x="77.1" y="103.9" text-anchor="middle">A-BH-10</text>
<text class="w" x="60.4" y="109.1" text-anchor="middle">A-BH-11</text>
<text class="w" x="89.2" y="107.6" text-anchor="middle">B-BH-11</text>
</g>
</g>
<g transform="translate(120 290.6)">
<path d="M32 14.4V115.2H134.8" fill="none" stroke="#cfcfcf" stroke-width=".7"/>
<text class="k" transform="translate(37.4 123.2) scale(.1)" text-anchor="middle">3000</text>
<text class="k" transform="translate(55.6 123.2) scale(.1)" text-anchor="middle">3500</text>
<text class="k" transform="translate(73.8 123.2) scale(.1)" text-anchor="middle">4000</text>
<text class="k" transform="translate(92 123.2) scale(.1)" text-anchor="middle">4500</text>
<text class="k" transform="translate(110.2 123.2) scale(.1)" text-anchor="middle">5000</text>
<text class="k" transform="translate(128.4 123.2) scale(.1)" text-anchor="middle">5500</text>
<text class="k" transform="translate(29.6 32.1) scale(.1)" text-anchor="end">2000</text>
<text class="k" transform="translate(29.6 54.4) scale(.1)" text-anchor="end">1500</text>
<text class="k" transform="translate(29.6 76.7) scale(.1)" text-anchor="end">1000</text>
<text class="k" transform="translate(29.6 99) scale(.1)" text-anchor="end">500</text>
<text class="t" x="77.4" y="12" font-size="8.3" text-anchor="middle">SPTN_GPR_EDF_80</text>
<g class="c" clip-path="url(#site)">
<rect x="30" y="15" width="100" height="100" fill="#4646e6" stroke="none"/>
<path d="M48.75 115.46C48.83 114.58 48.99 113.54 49.23 110.17C49.47 106.81 49.43 100.16 50.19 95.27C50.95 90.38 52.28 85.37 53.8 80.85C55.32 76.32 57.2 72.03 59.33 68.11C61.45 64.18 64.13 60.21 66.54 57.29C68.94 54.36 69.5 51.68 73.75 50.56C78 49.44 86.09 49.6 92.02 50.56C97.95 51.52 103.64 54.12 109.33 56.33C115.02 58.53 123.35 62.54 126.15 63.78L130.96 57.29L130.96 113.06Z" fill="#3d29b2"/>
<path d="M35.29 84.69C36.01 83.49 38.01 79.64 39.62 77.48C41.22 75.32 44.02 72.67 44.9 71.71" fill="none" style="stroke:#3d29b2;stroke-width:1.7;stroke-opacity:1;stroke-linecap:round"/>
<path d="M36.73 95.03C37.61 93.43 40.1 88.34 42.02 85.41C43.94 82.49 47.23 78.8 48.27 77.48" fill="none" style="stroke:#3d29b2;stroke-width:1.7;stroke-opacity:1;stroke-linecap:round"/>
<path d="M39.62 105.85C40.42 104.24 42.66 99.24 44.42 96.23C46.19 93.23 49.23 89.22 50.19 87.82" fill="none" style="stroke:#3d29b2;stroke-width:1.7;stroke-opacity:1;stroke-linecap:round"/>
<path d="M81 35.7C81.5 35.48 82.88 34.65 84 34.4C85.12 34.15 87.08 34.23 87.7 34.2" fill="none" style="stroke:#1a0f5c;stroke-width:1.2;stroke-opacity:1;stroke-linecap:round"/>
<path d="M58.5 44.5C58.92 44.28 60.08 43.45 61 43.2C61.92 42.95 63.5 43.03 64 43" fill="none" style="stroke:#1a0f5c;stroke-width:1.2;stroke-opacity:1;stroke-linecap:round"/>
<path d="M103.9 41C105.33 41.03 109.38 40.55 112.5 41.2C115.62 41.85 120.92 44.28 122.6 44.9" fill="none" style="stroke:#1a0f5c;stroke-width:1.5;stroke-opacity:1;stroke-linecap:round"/>
<path d="M101 54.9C102.67 55.13 107.4 55.23 111 56.3C114.6 57.37 120.67 60.47 122.6 61.3" fill="none" style="stroke:#21a3e3;stroke-width:0.7;stroke-opacity:1;stroke-linecap:round"/>
<path d="M99.5 54C101.42 54.25 107.15 54.42 111 55.5C114.85 56.58 120.67 59.67 122.6 60.5" fill="none" style="stroke:#1a0f5c;stroke-width:1.2;stroke-opacity:1;stroke-linecap:round"/>
<path d="M99.5 61.2C100.95 61.45 105.07 61.73 108.2 62.7C111.33 63.67 116.13 65.8 118.3 67C120.47 68.2 120.72 69.42 121.2 69.9" fill="none" style="stroke:#347afd;stroke-width:1.3;stroke-opacity:1;stroke-linecap:round"/>
<path d="M108.2 62.7C109.88 63.42 116.13 65.8 118.3 67C120.47 68.2 120.72 69.42 121.2 69.9" fill="none" style="stroke:#12beb9;stroke-width:0.45;stroke-opacity:1;stroke-linecap:round"/>
<path d="M99.8 60.3C101.25 60.55 105.37 60.83 108.5 61.8C111.63 62.77 116.43 64.9 118.6 66.1C120.77 67.3 121.02 68.52 121.5 69" fill="none" style="stroke:#1a0f5c;stroke-width:0.6;stroke-opacity:1;stroke-linecap:round"/>
<path d="M98 65.6C99.45 65.95 103.8 66.63 106.7 67.7C109.6 68.77 113.23 70.78 115.4 72C117.57 73.22 118.98 74.5 119.7 75" fill="none" style="stroke:#347afd;stroke-width:1.3;stroke-opacity:1;stroke-linecap:round"/>
<path d="M106.7 67.7C108.15 68.42 113.23 70.78 115.4 72C117.57 73.22 118.98 74.5 119.7 75" fill="none" style="stroke:#12beb9;stroke-width:0.45;stroke-opacity:1;stroke-linecap:round"/>
<path d="M98.3 64.7C99.75 65.05 104.1 65.73 107 66.8C109.9 67.87 113.53 69.88 115.7 71.1C117.87 72.32 119.28 73.6 120 74.1" fill="none" style="stroke:#1a0f5c;stroke-width:0.6;stroke-opacity:1;stroke-linecap:round"/>
<path d="M51.7 54.5C51.7 54.69 51.55 54.93 51.35 55.07C51.15 55.2 50.78 55.3 50.5 55.3C50.22 55.3 49.85 55.2 49.65 55.07C49.45 54.93 49.3 54.69 49.3 54.5C49.3 54.31 49.45 54.07 49.65 53.93C49.85 53.8 50.22 53.7 50.5 53.7C50.78 53.7 51.15 53.8 51.35 53.93C51.55 54.07 51.7 54.31 51.7 54.5Z" fill="#3d29b2"/>
<path d="M93.91 84.6C93.79 84.8 93.39 84.93 92.99 84.89C92.59 84.85 91.95 84.63 91.5 84.37C91.05 84.11 90.53 83.66 90.3 83.33C90.07 83.01 89.98 82.6 90.09 82.4C90.21 82.2 90.61 82.07 91.01 82.11C91.41 82.15 92.05 82.37 92.5 82.63C92.95 82.89 93.47 83.34 93.7 83.67C93.93 83.99 94.02 84.4 93.91 84.6Z" fill="#3d29b2"/>
<path d="M72.06 44.5C71.91 44.77 71.51 44.99 71.14 45.03C70.77 45.07 70.22 44.94 69.85 44.73C69.48 44.51 69.09 44.1 68.94 43.76C68.79 43.42 68.79 42.97 68.94 42.7C69.09 42.43 69.49 42.21 69.86 42.17C70.23 42.13 70.78 42.26 71.15 42.47C71.52 42.69 71.91 43.1 72.06 43.44C72.21 43.78 72.21 44.23 72.06 44.5Z" fill="#1e1268"/>
<path d="M70.98 43.85C70.91 43.97 70.72 44.07 70.54 44.09C70.36 44.1 70.08 44.03 69.9 43.92C69.72 43.81 69.52 43.61 69.44 43.45C69.36 43.29 69.35 43.07 69.42 42.95C69.49 42.83 69.68 42.73 69.86 42.71C70.04 42.7 70.32 42.77 70.5 42.88C70.68 42.99 70.88 43.19 70.96 43.35C71.04 43.51 71.05 43.73 70.98 43.85Z" fill="#5ccc76"/>
<path d="M68.06 49.9C67.91 50.17 67.51 50.39 67.14 50.43C66.77 50.47 66.22 50.34 65.85 50.13C65.48 49.91 65.09 49.5 64.94 49.16C64.79 48.82 64.79 48.37 64.94 48.1C65.09 47.83 65.49 47.61 65.86 47.57C66.23 47.53 66.78 47.66 67.15 47.87C67.52 48.09 67.91 48.5 68.06 48.84C68.21 49.18 68.21 49.63 68.06 49.9Z" fill="#1e1268"/>
<path d="M66.98 49.25C66.91 49.37 66.72 49.47 66.54 49.49C66.36 49.5 66.08 49.43 65.9 49.32C65.72 49.21 65.52 49.01 65.44 48.85C65.36 48.69 65.35 48.47 65.42 48.35C65.49 48.23 65.68 48.13 65.86 48.11C66.04 48.1 66.32 48.17 66.5 48.28C66.68 48.39 66.88 48.59 66.96 48.75C67.04 48.91 67.05 49.13 66.98 49.25Z" fill="#5ccc76"/>
<path d="M51 29C51.42 29.42 52.73 30.73 53.5 31.5C54.27 32.27 55.25 33.25 55.6 33.6" fill="none" style="stroke:#1e1268;stroke-width:1;stroke-opacity:1;stroke-linecap:round"/>
<path d="M70.25 30.3C69.97 30.79 69.46 31.28 68.97 31.53C68.48 31.78 67.82 31.88 67.32 31.79C66.81 31.7 66.26 31.38 65.93 30.99C65.59 30.59 65.36 29.97 65.33 29.42C65.3 28.88 65.46 28.19 65.75 27.7C66.03 27.21 66.54 26.72 67.03 26.47C67.52 26.22 68.18 26.12 68.68 26.21C69.19 26.3 69.74 26.62 70.07 27.01C70.41 27.41 70.64 28.03 70.67 28.58C70.7 29.12 70.54 29.81 70.25 30.3Z" fill="#2a1a80"/>
<path d="M69.65 29.95C69.43 30.32 69.05 30.7 68.68 30.89C68.32 31.08 67.84 31.17 67.46 31.11C67.09 31.04 66.69 30.81 66.45 30.52C66.21 30.23 66.04 29.76 66.02 29.35C66.01 28.94 66.14 28.42 66.35 28.05C66.57 27.68 66.95 27.3 67.32 27.11C67.68 26.92 68.16 26.83 68.54 26.89C68.91 26.96 69.31 27.19 69.55 27.48C69.79 27.77 69.96 28.24 69.98 28.65C69.99 29.06 69.86 29.58 69.65 29.95Z" fill="#12beb9"/>
<path d="M69.24 29.4C69.1 29.64 68.86 29.87 68.63 30C68.4 30.12 68.09 30.18 67.86 30.14C67.62 30.1 67.36 29.95 67.21 29.77C67.06 29.58 66.96 29.29 66.95 29.03C66.94 28.77 67.02 28.44 67.16 28.2C67.3 27.96 67.54 27.73 67.77 27.6C68 27.48 68.31 27.42 68.54 27.46C68.78 27.5 69.04 27.65 69.19 27.83C69.34 28.02 69.44 28.31 69.45 28.57C69.46 28.83 69.38 29.16 69.24 29.4Z" fill="#feca33"/>
</g>
<path d="M35.6 109.7 L35.6 63.3 L49.5 63.3 L49.5 26.6 L57.4 26.6 L57.4 21.2 L65 21.9 L78 25.4 L100 34.4 L117 41.5 L122.9 44.7 L124.6 48 L125 50.7 L124.5 57 L123.4 62.7 L120.2 79.3 L104 79.3 L86 109.7Z" fill="none" stroke="#222" stroke-opacity=".55" stroke-width=".35"/>
<path d="M49.5 48.3H103.5V79.3" fill="none" stroke="#222" stroke-opacity=".45" stroke-width=".3"/>
<text class="b" x="77.7" y="32.6" text-anchor="middle">C-BH-1</text>
<text class="b" x="62.7" y="38.4" text-anchor="middle">C-BH-4</text>
<text class="b" x="88.4" y="37.8" text-anchor="middle">C-BH-2</text>
<text class="b" x="103.6" y="38.4" text-anchor="middle">C-BH-3</text>
<text class="b" x="77.7" y="46.5" text-anchor="middle">C-BH-5</text>
<text class="b" x="74.8" y="50.8" text-anchor="middle">A-BH-1</text>
<text class="b" x="95.6" y="47.1" text-anchor="middle">C-BH-6</text>
<text class="b" x="112.3" y="47.1" text-anchor="middle">C-BH-7</text>
<text class="b" x="125.3" y="47.1" text-anchor="middle">C-BH-8</text>
<text class="b" x="84.9" y="56.5" text-anchor="middle">B-BH-1</text>
<text class="b" x="100.2" y="58" text-anchor="middle">B-BH-3</text>
<text class="b" x="93.5" y="61.5" text-anchor="middle">B-BH-2</text>
<text class="b" x="56" y="58.5" text-anchor="middle">A-BH-2</text>
<text class="b" x="126" y="60.9" text-anchor="middle">C-BH-10</text>
<text class="b" x="116.6" y="64.4" text-anchor="middle">C-BH-9</text>
<text class="b" x="41.6" y="65.8" text-anchor="middle">A-BH-4</text>
<text class="b" x="122.4" y="73" text-anchor="middle">C-BH-11</text>
<text class="b" x="87" y="75.3" text-anchor="middle">B-BH-4</text>
<text class="b" x="102.2" y="75.3" text-anchor="middle">B-BH-6</text>
<text class="b" x="91.5" y="79.6" text-anchor="middle">B-BH-5</text>
<text class="b" x="51.2" y="79.6" text-anchor="middle">A-BH-6</text>
<text class="b" x="41.6" y="86.9" text-anchor="middle">A-BH-7</text>
<text class="b" x="76.2" y="86" text-anchor="middle">A-BH-9</text>
<text class="b" x="94.4" y="87.4" text-anchor="middle">B-BH-8</text>
<text class="b" x="58.9" y="89.7" text-anchor="middle">A-BH-8</text>
<text class="b" x="80.6" y="92.6" text-anchor="middle">B-BH-7</text>
<text class="b" x="108" y="89.7" text-anchor="middle">B-BH-12</text>
<text class="b" x="113.7" y="94.1" text-anchor="middle">IC-BH-12</text>
<text class="b" x="76.2" y="97.5" text-anchor="middle">B-BH-9</text>
<text class="b" x="93.5" y="97.5" text-anchor="middle">B-BH-10</text>
<text class="b" x="43.6" y="103.9" text-anchor="middle">A-BH-12</text>
<text class="b" x="77.1" y="103.9" text-anchor="middle">A-BH-10</text>
<text class="b" x="60.4" y="109.1" text-anchor="middle">A-BH-11</text>
<text class="b" x="89.2" y="107.6" text-anchor="middle">B-BH-11</text>
<g clip-path="url(#site)">
<text class="w" x="77.7" y="32.6" text-anchor="middle">C-BH-1</text>
<text class="w" x="62.7" y="38.4" text-anchor="middle">C-BH-4</text>
<text class="w" x="88.4" y="37.8" text-anchor="middle">C-BH-2</text>
<text class="w" x="77.7" y="46.5" text-anchor="middle">C-BH-5</text>
<text class="w" x="74.8" y="50.8" text-anchor="middle">A-BH-1</text>
<text class="w" x="95.6" y="47.1" text-anchor="middle">C-BH-6</text>
<text class="w" x="112.3" y="47.1" text-anchor="middle">C-BH-7</text>
<text class="w" x="125.3" y="47.1" text-anchor="middle">C-BH-8</text>
<text class="w" x="84.9" y="56.5" text-anchor="middle">B-BH-1</text>
<text class="w" x="100.2" y="58" text-anchor="middle">B-BH-3</text>
<text class="w" x="93.5" y="61.5" text-anchor="middle">B-BH-2</text>
<text class="w" x="56" y="58.5" text-anchor="middle">A-BH-2</text>
<text class="w" x="126" y="60.9" text-anchor="middle">C-BH-10</text>
<text class="w" x="116.6" y="64.4" text-anchor="middle">C-BH-9</text>
<text class="w" x="41.6" y="65.8" text-anchor="middle">A-BH-4</text>
<text class="w" x="122.4" y="73" text-anchor="middle">C-BH-11</text>
<text class="w" x="87" y="75.3" text-anchor="middle">B-BH-4</text>
<text class="w" x="102.2" y="75.3" text-anchor="middle">B-BH-6</text>
<text class="w" x="91.5" y="79.6" text-anchor="middle">B-BH-5</text>
<text class="w" x="51.2" y="79.6" text-anchor="middle">A-BH-6</text>
<text class="w" x="41.6" y="86.9" text-anchor="middle">A-BH-7</text>
<text class="w" x="76.2" y="86" text-anchor="middle">A-BH-9</text>
<text class="w" x="94.4" y="87.4" text-anchor="middle">B-BH-8</text>
<text class="w" x="58.9" y="89.7" text-anchor="middle">A-BH-8</text>
<text class="w" x="80.6" y="92.6" text-anchor="middle">B-BH-7</text>
<text class="w" x="108" y="89.7" text-anchor="middle">B-BH-12</text>
<text class="w" x="113.7" y="94.1" text-anchor="middle">IC-BH-12</text>
<text class="w" x="76.2" y="97.5" text-anchor="middle">B-BH-9</text>
<text class="w" x="93.5" y="97.5" text-anchor="middle">B-BH-10</text>
<text class="w" x="43.6" y="103.9" text-anchor="middle">A-BH-12</text>
<text class="w" x="77.1" y="103.9" text-anchor="middle">A-BH-10</text>
<text class="w" x="60.4" y="109.1" text-anchor="middle">A-BH-11</text>
<text class="w" x="89.2" y="107.6" text-anchor="middle">B-BH-11</text>
</g>
</g>
<g transform="translate(240 290.6)">
<path d="M32 14.4V115.2H134.8" fill="none" stroke="#cfcfcf" stroke-width=".7"/>
<text class="k" transform="translate(37.4 123.2) scale(.1)" text-anchor="middle">3000</text>
<text class="k" transform="translate(55.6 123.2) scale(.1)" text-anchor="middle">3500</text>
<text class="k" transform="translate(73.8 123.2) scale(.1)" text-anchor="middle">4000</text>
<text class="k" transform="translate(92 123.2) scale(.1)" text-anchor="middle">4500</text>
<text class="k" transform="translate(110.2 123.2) scale(.1)" text-anchor="middle">5000</text>
<text class="k" transform="translate(128.4 123.2) scale(.1)" text-anchor="middle">5500</text>
<text class="k" transform="translate(29.6 32.1) scale(.1)" text-anchor="end">2000</text>
<text class="k" transform="translate(29.6 54.4) scale(.1)" text-anchor="end">1500</text>
<text class="k" transform="translate(29.6 76.7) scale(.1)" text-anchor="end">1000</text>
<text class="k" transform="translate(29.6 99) scale(.1)" text-anchor="end">500</text>
<text class="t" x="77.4" y="12" font-size="8.3" text-anchor="middle">SPTN_ANN_EDF_80</text>
<g class="c" clip-path="url(#site)">
<rect x="30" y="15" width="100" height="100" fill="#3d29b2" stroke="none"/>
<path d="M39.22 78.98C38.81 80.18 40.85 85.71 41.81 88.36C42.77 91.01 43.01 92.33 44.99 94.85C46.96 97.38 49.92 101.35 53.65 103.51C57.37 105.68 64.95 107.96 67.35 107.84C69.76 107.72 69.88 104.35 68.08 102.79C66.27 101.23 59.78 100.51 56.53 98.46C53.28 96.42 50.64 93.41 48.59 90.52C46.55 87.64 45.83 83.07 44.27 81.15C42.7 79.22 39.62 77.78 39.22 78.98Z" fill="#4646e6"/>
<path d="M87.99 46.92C89.55 47.52 93.88 51.01 96.65 54.13C99.41 57.26 102.18 61.95 104.58 65.68C106.99 69.4 110.59 74.57 111.08 76.5C111.56 78.42 109.15 78.78 107.47 77.22C105.78 75.66 103.26 70.49 100.97 67.12C98.69 63.75 96.04 59.78 93.76 57.02C91.47 54.25 88.23 52.21 87.27 50.52C86.3 48.84 86.42 46.32 87.99 46.92Z" fill="#4646e6"/>
<path d="M48.85 25.82 L57.16 25.64 L57.22 20 L65.39 20.58 L73.7 23.48 L70.32 26.19 L67.8 28.32 L66.82 31.22 L68.8 34.29 L71.19 38.27 L70.91 44.65 L67.1 53.18 L65.11 60.49 L63.55 68.16 L56.06 69.15 L54.53 64.8 L53.48 56.8 L50.93 57.17 L47.24 58.41 L47.21 25.86Z" fill="#347afd"/>
<path d="M49.46 26.61 L57.4 26.61 L57.4 20.98 L65.19 21.56 L73.13 24.3 L69.81 27.04 L67.35 29.21 L66.34 32.09 L68.08 34.98 L70.24 38.59 L69.95 44.36 L66.63 52.3 L64.9 59.51 L63.46 67.16 L56.24 68.17 L54.8 63.84 L53.93 55.9 L51.48 56.34 L47.87 57.64 L47.87 26.61Z" fill="#f9fb15" style="stroke:#120c38;stroke-width:.55;stroke-opacity:.9"/>
<path d="M46.94 32.82C47.76 30.44 50.54 30.91 52.08 30.4C53.61 29.88 54.83 29.8 56.14 29.75C57.46 29.69 59.74 29.36 59.97 30.08C60.19 30.79 58.51 32.51 57.48 34.04C56.45 35.57 54.89 37.8 53.79 39.27C52.68 40.75 51.95 41.97 50.85 42.87C49.75 43.77 47.86 46.34 47.21 44.66C46.56 42.99 46.13 35.2 46.94 32.82Z" fill="#347afd"/>
<path d="M47.58 33.1C48.35 30.94 50.83 31.54 52.2 31.08C53.57 30.63 54.61 30.46 55.81 30.36C57.01 30.27 59.25 29.86 59.42 30.51C59.59 31.16 57.78 32.91 56.82 34.26C55.86 35.61 54.61 37.27 53.65 38.59C52.68 39.91 52.06 41.28 51.05 42.2C50.04 43.11 48.16 45.59 47.58 44.07C47.01 42.56 46.81 35.27 47.58 33.1Z" fill="#3d29b2" style="stroke:#120c38;stroke-width:.55;stroke-opacity:.9"/>
<path d="M74.8 32.1C74.8 32.81 74.54 33.65 74.15 34.22C73.76 34.79 73.08 35.31 72.45 35.52C71.82 35.74 70.98 35.74 70.35 35.52C69.72 35.31 69.04 34.79 68.65 34.22C68.26 33.65 68 32.81 68 32.1C68 31.39 68.26 30.55 68.65 29.98C69.04 29.41 69.72 28.89 70.35 28.68C70.98 28.46 71.82 28.46 72.45 28.68C73.08 28.89 73.76 29.41 74.15 29.98C74.54 30.55 74.8 31.39 74.8 32.1Z" fill="#347afd"/>
<path d="M72.4 31.8C72.4 32.19 72.26 32.66 72.06 32.98C71.85 33.29 71.49 33.58 71.16 33.7C70.82 33.82 70.38 33.82 70.04 33.7C69.71 33.58 69.35 33.29 69.14 32.98C68.94 32.66 68.8 32.19 68.8 31.8C68.8 31.41 68.94 30.94 69.14 30.62C69.35 30.31 69.71 30.02 70.04 29.9C70.38 29.78 70.82 29.78 71.16 29.9C71.49 30.02 71.85 30.31 72.06 30.62C72.26 30.94 72.4 31.41 72.4 31.8Z" fill="#21a3e3"/>
<path d="M61.15 67.74C60.76 65.81 63.84 64.99 65.19 66.58C66.54 68.17 68.84 75.34 69.23 77.26C69.61 79.18 68.84 79.71 67.5 78.13C66.15 76.54 61.53 69.66 61.15 67.74Z" fill="#3b65f4"/>
<path d="M33.44 63.54 L38.93 63.97 L37.19 69.6 L35.17 73.93 L33.44 73.93Z" fill="#f9fb15" style="stroke:#120c38;stroke-width:.55;stroke-opacity:.9"/>
<path d="M39.94 81.15C40.3 82.35 41.21 86.15 42.1 88.36C42.99 90.57 43.35 92.02 45.28 94.42C47.2 96.83 50.09 100.67 53.65 102.79C57.2 104.91 64.47 106.4 66.63 107.12" fill="none" style="stroke:#347afd;stroke-width:3.4;stroke-opacity:1;stroke-linecap:round"/>
<path d="M42.1 88.36C42.63 89.37 43.35 92.02 45.28 94.42C47.2 96.83 50.09 100.67 53.65 102.79C57.2 104.91 64.47 106.4 66.63 107.12" fill="none" style="stroke:#12beb9;stroke-width:2;stroke-opacity:1;stroke-linecap:round"/>
<path d="M45.28 94.42C46.67 95.82 50.09 100.67 53.65 102.79C57.2 104.91 64.47 106.4 66.63 107.12" fill="none" style="stroke:#c8c129;stroke-width:1;stroke-opacity:1;stroke-linecap:round"/>
<path d="M96.04 32.25C99.24 32.8 112.53 37.64 115.48 39.97C118.43 42.3 115.03 45.28 113.75 46.22C112.48 47.16 109.94 46.42 107.83 45.61C105.71 44.8 102.98 42.85 101.07 41.35C99.15 39.86 97.17 38.18 96.34 36.66C95.5 35.14 92.85 31.69 96.04 32.25Z" fill="#347afd"/>
<path d="M96.65 32.2 L114.68 39.41 L112.81 45.19 L107.47 44.32 L102.13 40.57 L97.51 36.53Z" fill="#f9fb15" style="stroke:#120c38;stroke-width:.55;stroke-opacity:.9"/>
<path d="M112.81 44.03C113.12 44.87 114.08 47.4 114.68 49.08C115.28 50.77 116.13 53.29 116.41 54.13" fill="none" style="stroke:#12beb9;stroke-width:1.1;stroke-opacity:1;stroke-linecap:round"/>
<path d="M109.63 75.2 L119.73 73.18 L119.73 81.55 L109.63 81.55Z" fill="#21a3e3"/>
<path d="M109.34 74.05 L119.73 72.03 L119.73 75.49 L109.63 76.35Z" fill="#3d29b2"/>
<path d="M111.08 76.79 L119.73 75.2 L119.73 81.55 L111.08 81.55Z" fill="#f9fb15" style="stroke:#120c38;stroke-width:.55;stroke-opacity:.9"/>
<path d="M89.43 48.36C90.63 49.75 94.24 53.6 96.65 56.73C99.05 59.86 101.7 63.99 103.86 67.12C106.02 70.25 108.67 74.09 109.63 75.49" fill="none" style="stroke:#3d60f2;stroke-width:0.55;stroke-opacity:1;stroke-linecap:round"/>
</g>
<path d="M35.6 109.7 L35.6 63.3 L49.5 63.3 L49.5 26.6 L57.4 26.6 L57.4 21.2 L65 21.9 L78 25.4 L100 34.4 L117 41.5 L122.9 44.7 L124.6 48 L125 50.7 L124.5 57 L123.4 62.7 L120.2 79.3 L104 79.3 L86 109.7Z" fill="none" stroke="#222" stroke-opacity=".55" stroke-width=".35"/>
<path d="M49.5 48.3H103.5V79.3" fill="none" stroke="#222" stroke-opacity=".45" stroke-width=".3"/>
<text class="b" x="77.7" y="32.6" text-anchor="middle">C-BH-1</text>
<text class="b" x="62.7" y="38.4" text-anchor="middle">C-BH-4</text>
<text class="b" x="88.4" y="37.8" text-anchor="middle">C-BH-2</text>
<text class="b" x="103.6" y="38.4" text-anchor="middle">C-BH-3</text>
<text class="b" x="77.7" y="46.5" text-anchor="middle">C-BH-5</text>
<text class="b" x="74.8" y="50.8" text-anchor="middle">A-BH-1</text>
<text class="b" x="95.6" y="47.1" text-anchor="middle">C-BH-6</text>
<text class="b" x="112.3" y="47.1" text-anchor="middle">C-BH-7</text>
<text class="b" x="125.3" y="47.1" text-anchor="middle">C-BH-8</text>
<text class="b" x="84.9" y="56.5" text-anchor="middle">B-BH-1</text>
<text class="b" x="100.2" y="58" text-anchor="middle">B-BH-3</text>
<text class="b" x="93.5" y="61.5" text-anchor="middle">B-BH-2</text>
<text class="b" x="56" y="58.5" text-anchor="middle">A-BH-2</text>
<text class="b" x="126" y="60.9" text-anchor="middle">C-BH-10</text>
<text class="b" x="116.6" y="64.4" text-anchor="middle">C-BH-9</text>
<text class="b" x="41.6" y="65.8" text-anchor="middle">A-BH-4</text>
<text class="b" x="122.4" y="73" text-anchor="middle">C-BH-11</text>
<text class="b" x="87" y="75.3" text-anchor="middle">B-BH-4</text>
<text class="b" x="102.2" y="75.3" text-anchor="middle">B-BH-6</text>
<text class="b" x="91.5" y="79.6" text-anchor="middle">B-BH-5</text>
<text class="b" x="51.2" y="79.6" text-anchor="middle">A-BH-6</text>
<text class="b" x="41.6" y="86.9" text-anchor="middle">A-BH-7</text>
<text class="b" x="76.2" y="86" text-anchor="middle">A-BH-9</text>
<text class="b" x="94.4" y="87.4" text-anchor="middle">B-BH-8</text>
<text class="b" x="58.9" y="89.7" text-anchor="middle">A-BH-8</text>
<text class="b" x="80.6" y="92.6" text-anchor="middle">B-BH-7</text>
<text class="b" x="108" y="89.7" text-anchor="middle">B-BH-12</text>
<text class="b" x="113.7" y="94.1" text-anchor="middle">IC-BH-12</text>
<text class="b" x="76.2" y="97.5" text-anchor="middle">B-BH-9</text>
<text class="b" x="93.5" y="97.5" text-anchor="middle">B-BH-10</text>
<text class="b" x="43.6" y="103.9" text-anchor="middle">A-BH-12</text>
<text class="b" x="77.1" y="103.9" text-anchor="middle">A-BH-10</text>
<text class="b" x="60.4" y="109.1" text-anchor="middle">A-BH-11</text>
<text class="b" x="89.2" y="107.6" text-anchor="middle">B-BH-11</text>
<g clip-path="url(#site)">
<text class="w" x="77.7" y="32.6" text-anchor="middle">C-BH-1</text>
<text class="w" x="88.4" y="37.8" text-anchor="middle">C-BH-2</text>
<text class="w" x="77.7" y="46.5" text-anchor="middle">C-BH-5</text>
<text class="w" x="74.8" y="50.8" text-anchor="middle">A-BH-1</text>
<text class="w" x="95.6" y="47.1" text-anchor="middle">C-BH-6</text>
<text class="w" x="112.3" y="47.1" text-anchor="middle">C-BH-7</text>
<text class="w" x="125.3" y="47.1" text-anchor="middle">C-BH-8</text>
<text class="w" x="84.9" y="56.5" text-anchor="middle">B-BH-1</text>
<text class="w" x="100.2" y="58" text-anchor="middle">B-BH-3</text>
<text class="w" x="93.5" y="61.5" text-anchor="middle">B-BH-2</text>
<text class="w" x="126" y="60.9" text-anchor="middle">C-BH-10</text>
<text class="w" x="116.6" y="64.4" text-anchor="middle">C-BH-9</text>
<text class="w" x="41.6" y="65.8" text-anchor="middle">A-BH-4</text>
<text class="w" x="122.4" y="73" text-anchor="middle">C-BH-11</text>
<text class="w" x="87" y="75.3" text-anchor="middle">B-BH-4</text>
<text class="w" x="102.2" y="75.3" text-anchor="middle">B-BH-6</text>
<text class="w" x="91.5" y="79.6" text-anchor="middle">B-BH-5</text>
<text class="w" x="51.2" y="79.6" text-anchor="middle">A-BH-6</text>
<text class="w" x="41.6" y="86.9" text-anchor="middle">A-BH-7</text>
<text class="w" x="76.2" y="86" text-anchor="middle">A-BH-9</text>
<text class="w" x="94.4" y="87.4" text-anchor="middle">B-BH-8</text>
<text class="w" x="58.9" y="89.7" text-anchor="middle">A-BH-8</text>
<text class="w" x="80.6" y="92.6" text-anchor="middle">B-BH-7</text>
<text class="w" x="108" y="89.7" text-anchor="middle">B-BH-12</text>
<text class="w" x="113.7" y="94.1" text-anchor="middle">IC-BH-12</text>
<text class="w" x="76.2" y="97.5" text-anchor="middle">B-BH-9</text>
<text class="w" x="93.5" y="97.5" text-anchor="middle">B-BH-10</text>
<text class="w" x="43.6" y="103.9" text-anchor="middle">A-BH-12</text>
<text class="w" x="77.1" y="103.9" text-anchor="middle">A-BH-10</text>
<text class="w" x="60.4" y="109.1" text-anchor="middle">A-BH-11</text>
<text class="w" x="89.2" y="107.6" text-anchor="middle">B-BH-11</text>
</g>
</g>
<g transform="translate(0 400.6)">
<path d="M32 14.4V115.2H134.8" fill="none" stroke="#cfcfcf" stroke-width=".7"/>
<text class="k" transform="translate(37.4 123.2) scale(.1)" text-anchor="middle">3000</text>
<text class="k" transform="translate(55.6 123.2) scale(.1)" text-anchor="middle">3500</text>
<text class="k" transform="translate(73.8 123.2) scale(.1)" text-anchor="middle">4000</text>
<text class="k" transform="translate(92 123.2) scale(.1)" text-anchor="middle">4500</text>
<text class="k" transform="translate(110.2 123.2) scale(.1)" text-anchor="middle">5000</text>
<text class="k" transform="translate(128.4 123.2) scale(.1)" text-anchor="middle">5500</text>
<text class="k" transform="translate(29.6 32.1) scale(.1)" text-anchor="end">2000</text>
<text class="k" transform="translate(29.6 54.4) scale(.1)" text-anchor="end">1500</text>
<text class="k" transform="translate(29.6 76.7) scale(.1)" text-anchor="end">1000</text>
<text class="k" transform="translate(29.6 99) scale(.1)" text-anchor="end">500</text>
<text class="t" x="77" y="132.7" font-size="6.7" text-anchor="middle" style="stroke:#111;stroke-width:.14px">X-Coordinate</text>
<text class="t" x="77.2" y="144" font-size="8" text-anchor="middle">(a-3)</text>
<text class="t" font-size="6.7" text-anchor="middle" style="stroke:#111;stroke-width:.14px" transform="translate(14.2 69) rotate(-90)">Y-Coordinate</text>
<g class="c" clip-path="url(#site)">
<rect x="30" y="15" width="100" height="100" fill="#3d29b2" stroke="none"/>
<path d="M119.15 40C119.37 40.5 120.67 40.33 120.45 43C120.23 45.67 118.82 52.33 117.85 56C116.88 59.67 116.44 62.17 114.6 65C112.76 67.83 109.4 70.58 106.8 73C104.2 75.42 100.52 78 99 79.5C97.48 81 97.92 81.58 97.7 82L140 82L140 40Z" fill="#4646e6"/>
<path d="M122.4 43C122.51 43.5 123.27 43.5 123.05 46C122.83 48.5 121.97 54.33 121.1 58C120.23 61.67 119.37 65.17 117.85 68C116.33 70.83 113.73 73.08 112 75C110.27 76.92 108.42 78.33 107.45 79.5C106.48 80.67 106.37 81.58 106.15 82L140 82L140 43Z" fill="#347afd"/>
<path d="M124.09 47C124.09 47.33 124.37 46.83 124.09 49C123.81 51.17 123.12 56.67 122.4 60C121.69 63.33 120.99 66.42 119.8 69C118.61 71.58 116.66 73.75 115.25 75.5C113.84 77.25 112.22 78.42 111.35 79.5C110.48 80.58 110.27 81.58 110.05 82L140 82L140 47Z" fill="#21a3e3"/>
<path d="M124.74 50C124.7 50.33 124.76 50 124.48 52C124.2 54 123.72 59 123.05 62C122.38 65 121.53 67.67 120.45 70C119.37 72.33 117.74 74.42 116.55 76C115.36 77.58 113.97 78.5 113.3 79.5C112.63 80.5 112.65 81.58 112.52 82L140 82L140 50Z" fill="#5ccc76"/>
<path d="M123.18 63C123.05 63.42 122.9 64.25 122.4 65.5C121.9 66.75 121.16 68.83 120.19 70.5C119.22 72.17 117.74 74 116.55 75.5C115.36 77 113.75 78.42 113.04 79.5C112.32 80.58 112.39 81.58 112.26 82L140 82L140 63Z" fill="#f9fb15"/>
<path d="M102.89 62.6C102.89 63.92 102.33 65.48 101.48 66.55C100.63 67.62 99.16 68.58 97.78 68.99C96.41 69.4 94.59 69.4 93.22 68.99C91.84 68.58 90.37 67.62 89.52 66.55C88.67 65.48 88.11 63.92 88.11 62.6C88.11 61.28 88.67 59.72 89.52 58.65C90.37 57.58 91.84 56.62 93.22 56.21C94.59 55.8 96.41 55.8 97.78 56.21C99.16 56.62 100.63 57.58 101.48 58.65C102.33 59.72 102.89 61.28 102.89 62.6Z" fill="#4646e6"/>
<path d="M57.15 24.42C56.85 27.1 56.45 29.7 55.45 32.5C54.44 35.3 52.39 38.22 51.11 41.21C49.83 44.2 48.34 47.47 47.76 50.45C47.19 53.43 47.23 56.44 47.64 59.1C48.06 61.76 49.09 64.34 50.25 66.41C51.42 68.49 53.27 70.44 54.62 71.55C55.97 72.67 57.03 73.09 58.36 73.09C59.69 73.1 61.28 72.69 62.62 71.6C63.97 70.5 65.49 68.75 66.45 66.54C67.41 64.33 67.98 61.37 68.38 58.34C68.79 55.3 68.92 51.56 68.87 48.31C68.82 45.06 68.03 41.62 68.1 38.84C68.17 36.05 68.51 33.64 69.29 31.61C70.08 29.58 71.76 29.14 72.83 26.63C73.9 24.12 78.32 18.27 75.71 16.57C73.11 14.86 60.31 15.1 57.22 16.41C54.12 17.72 57.44 21.74 57.15 24.42Z" fill="#3e5df0"/>
<path d="M57.4 32.2C58.83 32.03 62.57 31.39 66 31.17C69.43 30.95 74 30.71 78 30.9C82 31.09 86.83 31.92 90 32.3C93.17 32.68 95.83 33.02 97 33.17L97 10L57.4 10Z" fill="#3e5df0"/>
<path d="M58.4 24.7C58.29 27.37 58.53 29.91 57.76 32.72C56.99 35.54 54.89 38.58 53.76 41.6C52.64 44.61 51.43 47.9 51 50.83C50.57 53.75 50.73 56.73 51.17 59.14C51.61 61.54 52.52 63.72 53.65 65.25C54.77 66.78 56.49 68.21 57.9 68.3C59.32 68.39 61.01 67.3 62.14 65.79C63.27 64.28 64.17 61.7 64.69 59.24C65.21 56.78 65.27 54.01 65.27 51.05C65.27 48.09 64.86 44.54 64.7 41.49C64.54 38.45 64 35.25 64.3 32.8C64.6 30.35 65.97 29.47 66.48 26.79C66.99 24.12 68.69 18.43 67.35 16.75C66.01 15.07 59.93 15.38 58.43 16.7C56.94 18.03 58.52 22.03 58.4 24.7Z" fill="#347afd"/>
<path d="M57.4 29.7C58.83 29.71 62.57 29.75 66 29.77C69.43 29.79 74.33 29.6 78 29.8C81.67 30 85.33 30.63 88 30.98C90.67 31.34 93 31.78 94 31.94L94 10L57.4 10Z" fill="#347afd"/>
<path d="M63.6 53.5C63.6 55.17 63.31 57.06 62.82 58.5C62.34 59.94 61.54 61.33 60.7 62.16C59.86 62.99 58.77 63.5 57.8 63.5C56.83 63.5 55.74 62.99 54.9 62.16C54.06 61.33 53.26 59.94 52.78 58.5C52.29 57.06 52 55.17 52 53.5C52 51.83 52.29 49.94 52.78 48.5C53.26 47.06 54.06 45.67 54.9 44.84C55.74 44.01 56.83 43.5 57.8 43.5C58.77 43.5 59.86 44.01 60.7 44.84C61.54 45.67 62.34 47.06 62.82 48.5C63.31 49.94 63.6 51.83 63.6 53.5Z" fill="#21a3e3"/>
<path d="M57.4 26.2C58.83 26.46 62.57 27.37 66 27.77C69.43 28.17 74.67 28.28 78 28.6C81.33 28.92 83.83 29.32 86 29.67C88.17 30.02 90.17 30.54 91 30.71L91 10L57.4 10Z" fill="#21a3e3"/>
<path d="M61.3 54.5C61.3 55.5 61.03 56.69 60.63 57.5C60.23 58.31 59.53 59.04 58.88 59.35C58.23 59.66 57.37 59.66 56.72 59.35C56.07 59.04 55.37 58.31 54.97 57.5C54.57 56.69 54.3 55.5 54.3 54.5C54.3 53.5 54.57 52.31 54.97 51.5C55.37 50.69 56.07 49.96 56.72 49.65C57.37 49.34 58.23 49.34 58.88 49.65C59.53 49.96 60.23 50.69 60.63 51.5C61.03 52.31 61.3 53.5 61.3 54.5Z" fill="#12beb9"/>
<path d="M59.4 54.8C59.4 55.31 59.28 55.92 59.09 56.33C58.91 56.74 58.59 57.12 58.29 57.27C58 57.43 57.6 57.43 57.31 57.27C57.01 57.12 56.69 56.74 56.51 56.33C56.32 55.92 56.2 55.31 56.2 54.8C56.2 54.29 56.32 53.68 56.51 53.27C56.69 52.86 57.01 52.48 57.31 52.33C57.6 52.17 58 52.17 58.29 52.33C58.59 52.48 58.91 52.86 59.09 53.27C59.28 53.68 59.4 54.29 59.4 54.8Z" fill="#5ccc76"/>
<path d="M57.4 24C58.83 24.41 62.9 25.93 66 26.47C69.1 27.01 73 26.91 76 27.26C79 27.61 82 28.18 84 28.55C86 28.92 87.33 29.33 88 29.48L88 10L57.4 10Z" fill="#12beb9"/>
<path d="M57.4 22.1C57.83 22.31 58.57 22.71 60 23.34C61.43 23.97 63.5 25.29 66 25.87C68.5 26.44 72.33 26.51 75 26.79C77.67 27.07 80.17 27.22 82 27.53C83.83 27.85 85.33 28.48 86 28.67L86 10L57.4 10Z" fill="#5ccc76"/>
<path d="M60 21.44C60.5 21.79 61.67 22.82 63 23.52C64.33 24.21 66.17 25.16 68 25.61C69.83 26.06 72 26.04 74 26.22C76 26.41 78.33 26.45 80 26.72C81.67 26.99 83.33 27.66 84 27.85L84 10L60 10Z" fill="#f9fb15"/>
</g>
<path d="M35.6 109.7 L35.6 63.3 L49.5 63.3 L49.5 26.6 L57.4 26.6 L57.4 21.2 L65 21.9 L78 25.4 L100 34.4 L117 41.5 L122.9 44.7 L124.6 48 L125 50.7 L124.5 57 L123.4 62.7 L120.2 79.3 L104 79.3 L86 109.7Z" fill="none" stroke="#222" stroke-opacity=".55" stroke-width=".35"/>
<path d="M49.5 48.3H103.5V79.3" fill="none" stroke="#222" stroke-opacity=".45" stroke-width=".3"/>
<text class="b" x="77.7" y="32.6" text-anchor="middle">C-BH-1</text>
<text class="b" x="62.7" y="38.4" text-anchor="middle">C-BH-4</text>
<text class="b" x="88.4" y="37.8" text-anchor="middle">C-BH-2</text>
<text class="b" x="103.6" y="38.4" text-anchor="middle">C-BH-3</text>
<text class="b" x="77.7" y="46.5" text-anchor="middle">C-BH-5</text>
<text class="b" x="74.8" y="50.8" text-anchor="middle">A-BH-1</text>
<text class="b" x="95.6" y="47.1" text-anchor="middle">C-BH-6</text>
<text class="b" x="112.3" y="47.1" text-anchor="middle">C-BH-7</text>
<text class="b" x="125.3" y="47.1" text-anchor="middle">C-BH-8</text>
<text class="b" x="84.9" y="56.5" text-anchor="middle">B-BH-1</text>
<text class="b" x="100.2" y="58" text-anchor="middle">B-BH-3</text>
<text class="b" x="93.5" y="61.5" text-anchor="middle">B-BH-2</text>
<text class="b" x="56" y="58.5" text-anchor="middle">A-BH-2</text>
<text class="b" x="126" y="60.9" text-anchor="middle">C-BH-10</text>
<text class="b" x="116.6" y="64.4" text-anchor="middle">C-BH-9</text>
<text class="b" x="41.6" y="65.8" text-anchor="middle">A-BH-4</text>
<text class="b" x="122.4" y="73" text-anchor="middle">C-BH-11</text>
<text class="b" x="87" y="75.3" text-anchor="middle">B-BH-4</text>
<text class="b" x="102.2" y="75.3" text-anchor="middle">B-BH-6</text>
<text class="b" x="91.5" y="79.6" text-anchor="middle">B-BH-5</text>
<text class="b" x="51.2" y="79.6" text-anchor="middle">A-BH-6</text>
<text class="b" x="41.6" y="86.9" text-anchor="middle">A-BH-7</text>
<text class="b" x="76.2" y="86" text-anchor="middle">A-BH-9</text>
<text class="b" x="94.4" y="87.4" text-anchor="middle">B-BH-8</text>
<text class="b" x="58.9" y="89.7" text-anchor="middle">A-BH-8</text>
<text class="b" x="80.6" y="92.6" text-anchor="middle">B-BH-7</text>
<text class="b" x="108" y="89.7" text-anchor="middle">B-BH-12</text>
<text class="b" x="113.7" y="94.1" text-anchor="middle">IC-BH-12</text>
<text class="b" x="76.2" y="97.5" text-anchor="middle">B-BH-9</text>
<text class="b" x="93.5" y="97.5" text-anchor="middle">B-BH-10</text>
<text class="b" x="43.6" y="103.9" text-anchor="middle">A-BH-12</text>
<text class="b" x="77.1" y="103.9" text-anchor="middle">A-BH-10</text>
<text class="b" x="60.4" y="109.1" text-anchor="middle">A-BH-11</text>
<text class="b" x="89.2" y="107.6" text-anchor="middle">B-BH-11</text>
<g clip-path="url(#site)">
<text class="w" x="77.7" y="32.6" text-anchor="middle">C-BH-1</text>
<text class="w" x="62.7" y="38.4" text-anchor="middle">C-BH-4</text>
<text class="w" x="88.4" y="37.8" text-anchor="middle">C-BH-2</text>
<text class="w" x="77.7" y="46.5" text-anchor="middle">C-BH-5</text>
<text class="w" x="74.8" y="50.8" text-anchor="middle">A-BH-1</text>
<text class="w" x="95.6" y="47.1" text-anchor="middle">C-BH-6</text>
<text class="w" x="112.3" y="47.1" text-anchor="middle">C-BH-7</text>
<text class="w" x="125.3" y="47.1" text-anchor="middle">C-BH-8</text>
<text class="w" x="84.9" y="56.5" text-anchor="middle">B-BH-1</text>
<text class="w" x="100.2" y="58" text-anchor="middle">B-BH-3</text>
<text class="w" x="93.5" y="61.5" text-anchor="middle">B-BH-2</text>
<text class="w" x="56" y="58.5" text-anchor="middle">A-BH-2</text>
<text class="w" x="126" y="60.9" text-anchor="middle">C-BH-10</text>
<text class="w" x="116.6" y="64.4" text-anchor="middle">C-BH-9</text>
<text class="w" x="41.6" y="65.8" text-anchor="middle">A-BH-4</text>
<text class="w" x="122.4" y="73" text-anchor="middle">C-BH-11</text>
<text class="w" x="87" y="75.3" text-anchor="middle">B-BH-4</text>
<text class="w" x="102.2" y="75.3" text-anchor="middle">B-BH-6</text>
<text class="w" x="91.5" y="79.6" text-anchor="middle">B-BH-5</text>
<text class="w" x="51.2" y="79.6" text-anchor="middle">A-BH-6</text>
<text class="w" x="41.6" y="86.9" text-anchor="middle">A-BH-7</text>
<text class="w" x="76.2" y="86" text-anchor="middle">A-BH-9</text>
<text class="w" x="94.4" y="87.4" text-anchor="middle">B-BH-8</text>
<text class="w" x="58.9" y="89.7" text-anchor="middle">A-BH-8</text>
<text class="w" x="80.6" y="92.6" text-anchor="middle">B-BH-7</text>
<text class="w" x="108" y="89.7" text-anchor="middle">B-BH-12</text>
<text class="w" x="113.7" y="94.1" text-anchor="middle">IC-BH-12</text>
<text class="w" x="76.2" y="97.5" text-anchor="middle">B-BH-9</text>
<text class="w" x="93.5" y="97.5" text-anchor="middle">B-BH-10</text>
<text class="w" x="43.6" y="103.9" text-anchor="middle">A-BH-12</text>
<text class="w" x="77.1" y="103.9" text-anchor="middle">A-BH-10</text>
<text class="w" x="60.4" y="109.1" text-anchor="middle">A-BH-11</text>
<text class="w" x="89.2" y="107.6" text-anchor="middle">B-BH-11</text>
</g>
</g>
<g transform="translate(120 400.6)">
<path d="M32 14.4V115.2H134.8" fill="none" stroke="#cfcfcf" stroke-width=".7"/>
<text class="k" transform="translate(37.4 123.2) scale(.1)" text-anchor="middle">3000</text>
<text class="k" transform="translate(55.6 123.2) scale(.1)" text-anchor="middle">3500</text>
<text class="k" transform="translate(73.8 123.2) scale(.1)" text-anchor="middle">4000</text>
<text class="k" transform="translate(92 123.2) scale(.1)" text-anchor="middle">4500</text>
<text class="k" transform="translate(110.2 123.2) scale(.1)" text-anchor="middle">5000</text>
<text class="k" transform="translate(128.4 123.2) scale(.1)" text-anchor="middle">5500</text>
<text class="k" transform="translate(29.6 32.1) scale(.1)" text-anchor="end">2000</text>
<text class="k" transform="translate(29.6 54.4) scale(.1)" text-anchor="end">1500</text>
<text class="k" transform="translate(29.6 76.7) scale(.1)" text-anchor="end">1000</text>
<text class="k" transform="translate(29.6 99) scale(.1)" text-anchor="end">500</text>
<text class="t" x="77" y="132.7" font-size="6.7" text-anchor="middle" style="stroke:#111;stroke-width:.14px">X-Coordinate</text>
<text class="t" x="77.2" y="144" font-size="8" text-anchor="middle">(b-3)</text>
<g class="c" clip-path="url(#site)">
<rect x="30" y="15" width="100" height="100" fill="#4646e6" stroke="none"/>
<path d="M48.75 115.46C48.83 114.58 48.99 113.54 49.23 110.17C49.47 106.81 49.43 100.16 50.19 95.27C50.95 90.38 52.28 85.37 53.8 80.85C55.32 76.32 57.2 72.03 59.33 68.11C61.45 64.18 64.13 60.21 66.54 57.29C68.94 54.36 69.5 51.68 73.75 50.56C78 49.44 86.09 49.6 92.02 50.56C97.95 51.52 103.64 54.12 109.33 56.33C115.02 58.53 123.35 62.54 126.15 63.78L130.96 57.29L130.96 113.06Z" fill="#3d29b2"/>
<path d="M35.29 84.69C36.01 83.49 38.01 79.64 39.62 77.48C41.22 75.32 44.02 72.67 44.9 71.71" fill="none" style="stroke:#3d29b2;stroke-width:1.7;stroke-opacity:1;stroke-linecap:round"/>
<path d="M36.73 95.03C37.61 93.43 40.1 88.34 42.02 85.41C43.94 82.49 47.23 78.8 48.27 77.48" fill="none" style="stroke:#3d29b2;stroke-width:1.7;stroke-opacity:1;stroke-linecap:round"/>
<path d="M39.62 105.85C40.42 104.24 42.66 99.24 44.42 96.23C46.19 93.23 49.23 89.22 50.19 87.82" fill="none" style="stroke:#3d29b2;stroke-width:1.7;stroke-opacity:1;stroke-linecap:round"/>
<path d="M81 35.7C81.5 35.48 82.88 34.65 84 34.4C85.12 34.15 87.08 34.23 87.7 34.2" fill="none" style="stroke:#1a0f5c;stroke-width:1.2;stroke-opacity:1;stroke-linecap:round"/>
<path d="M58.5 44.5C58.92 44.28 60.08 43.45 61 43.2C61.92 42.95 63.5 43.03 64 43" fill="none" style="stroke:#1a0f5c;stroke-width:1.2;stroke-opacity:1;stroke-linecap:round"/>
<path d="M103.9 41C105.33 41.03 109.38 40.55 112.5 41.2C115.62 41.85 120.92 44.28 122.6 44.9" fill="none" style="stroke:#1a0f5c;stroke-width:1.5;stroke-opacity:1;stroke-linecap:round"/>
<path d="M101 54.9C102.67 55.13 107.4 55.23 111 56.3C114.6 57.37 120.67 60.47 122.6 61.3" fill="none" style="stroke:#21a3e3;stroke-width:0.7;stroke-opacity:1;stroke-linecap:round"/>
<path d="M99.5 54C101.42 54.25 107.15 54.42 111 55.5C114.85 56.58 120.67 59.67 122.6 60.5" fill="none" style="stroke:#1a0f5c;stroke-width:1.2;stroke-opacity:1;stroke-linecap:round"/>
<path d="M99.5 61.2C100.95 61.45 105.07 61.73 108.2 62.7C111.33 63.67 116.13 65.8 118.3 67C120.47 68.2 120.72 69.42 121.2 69.9" fill="none" style="stroke:#347afd;stroke-width:1.3;stroke-opacity:1;stroke-linecap:round"/>
<path d="M108.2 62.7C109.88 63.42 116.13 65.8 118.3 67C120.47 68.2 120.72 69.42 121.2 69.9" fill="none" style="stroke:#12beb9;stroke-width:0.45;stroke-opacity:1;stroke-linecap:round"/>
<path d="M99.8 60.3C101.25 60.55 105.37 60.83 108.5 61.8C111.63 62.77 116.43 64.9 118.6 66.1C120.77 67.3 121.02 68.52 121.5 69" fill="none" style="stroke:#1a0f5c;stroke-width:0.6;stroke-opacity:1;stroke-linecap:round"/>
<path d="M98 65.6C99.45 65.95 103.8 66.63 106.7 67.7C109.6 68.77 113.23 70.78 115.4 72C117.57 73.22 118.98 74.5 119.7 75" fill="none" style="stroke:#347afd;stroke-width:1.3;stroke-opacity:1;stroke-linecap:round"/>
<path d="M106.7 67.7C108.15 68.42 113.23 70.78 115.4 72C117.57 73.22 118.98 74.5 119.7 75" fill="none" style="stroke:#12beb9;stroke-width:0.45;stroke-opacity:1;stroke-linecap:round"/>
<path d="M98.3 64.7C99.75 65.05 104.1 65.73 107 66.8C109.9 67.87 113.53 69.88 115.7 71.1C117.87 72.32 119.28 73.6 120 74.1" fill="none" style="stroke:#1a0f5c;stroke-width:0.6;stroke-opacity:1;stroke-linecap:round"/>
<path d="M51.7 54.5C51.7 54.69 51.55 54.93 51.35 55.07C51.15 55.2 50.78 55.3 50.5 55.3C50.22 55.3 49.85 55.2 49.65 55.07C49.45 54.93 49.3 54.69 49.3 54.5C49.3 54.31 49.45 54.07 49.65 53.93C49.85 53.8 50.22 53.7 50.5 53.7C50.78 53.7 51.15 53.8 51.35 53.93C51.55 54.07 51.7 54.31 51.7 54.5Z" fill="#3d29b2"/>
<path d="M93.91 84.6C93.79 84.8 93.39 84.93 92.99 84.89C92.59 84.85 91.95 84.63 91.5 84.37C91.05 84.11 90.53 83.66 90.3 83.33C90.07 83.01 89.98 82.6 90.09 82.4C90.21 82.2 90.61 82.07 91.01 82.11C91.41 82.15 92.05 82.37 92.5 82.63C92.95 82.89 93.47 83.34 93.7 83.67C93.93 83.99 94.02 84.4 93.91 84.6Z" fill="#3d29b2"/>
<path d="M72.06 44.5C71.91 44.77 71.51 44.99 71.14 45.03C70.77 45.07 70.22 44.94 69.85 44.73C69.48 44.51 69.09 44.1 68.94 43.76C68.79 43.42 68.79 42.97 68.94 42.7C69.09 42.43 69.49 42.21 69.86 42.17C70.23 42.13 70.78 42.26 71.15 42.47C71.52 42.69 71.91 43.1 72.06 43.44C72.21 43.78 72.21 44.23 72.06 44.5Z" fill="#1e1268"/>
<path d="M70.98 43.85C70.91 43.97 70.72 44.07 70.54 44.09C70.36 44.1 70.08 44.03 69.9 43.92C69.72 43.81 69.52 43.61 69.44 43.45C69.36 43.29 69.35 43.07 69.42 42.95C69.49 42.83 69.68 42.73 69.86 42.71C70.04 42.7 70.32 42.77 70.5 42.88C70.68 42.99 70.88 43.19 70.96 43.35C71.04 43.51 71.05 43.73 70.98 43.85Z" fill="#5ccc76"/>
<path d="M68.06 49.9C67.91 50.17 67.51 50.39 67.14 50.43C66.77 50.47 66.22 50.34 65.85 50.13C65.48 49.91 65.09 49.5 64.94 49.16C64.79 48.82 64.79 48.37 64.94 48.1C65.09 47.83 65.49 47.61 65.86 47.57C66.23 47.53 66.78 47.66 67.15 47.87C67.52 48.09 67.91 48.5 68.06 48.84C68.21 49.18 68.21 49.63 68.06 49.9Z" fill="#1e1268"/>
<path d="M66.98 49.25C66.91 49.37 66.72 49.47 66.54 49.49C66.36 49.5 66.08 49.43 65.9 49.32C65.72 49.21 65.52 49.01 65.44 48.85C65.36 48.69 65.35 48.47 65.42 48.35C65.49 48.23 65.68 48.13 65.86 48.11C66.04 48.1 66.32 48.17 66.5 48.28C66.68 48.39 66.88 48.59 66.96 48.75C67.04 48.91 67.05 49.13 66.98 49.25Z" fill="#5ccc76"/>
<path d="M51 29C51.42 29.42 52.73 30.73 53.5 31.5C54.27 32.27 55.25 33.25 55.6 33.6" fill="none" style="stroke:#1e1268;stroke-width:1;stroke-opacity:1;stroke-linecap:round"/>
<path d="M70.25 30.3C69.97 30.79 69.46 31.28 68.97 31.53C68.48 31.78 67.82 31.88 67.32 31.79C66.81 31.7 66.26 31.38 65.93 30.99C65.59 30.59 65.36 29.97 65.33 29.42C65.3 28.88 65.46 28.19 65.75 27.7C66.03 27.21 66.54 26.72 67.03 26.47C67.52 26.22 68.18 26.12 68.68 26.21C69.19 26.3 69.74 26.62 70.07 27.01C70.41 27.41 70.64 28.03 70.67 28.58C70.7 29.12 70.54 29.81 70.25 30.3Z" fill="#2a1a80"/>
<path d="M69.65 29.95C69.43 30.32 69.05 30.7 68.68 30.89C68.32 31.08 67.84 31.17 67.46 31.11C67.09 31.04 66.69 30.81 66.45 30.52C66.21 30.23 66.04 29.76 66.02 29.35C66.01 28.94 66.14 28.42 66.35 28.05C66.57 27.68 66.95 27.3 67.32 27.11C67.68 26.92 68.16 26.83 68.54 26.89C68.91 26.96 69.31 27.19 69.55 27.48C69.79 27.77 69.96 28.24 69.98 28.65C69.99 29.06 69.86 29.58 69.65 29.95Z" fill="#12beb9"/>
<path d="M69.24 29.4C69.1 29.64 68.86 29.87 68.63 30C68.4 30.12 68.09 30.18 67.86 30.14C67.62 30.1 67.36 29.95 67.21 29.77C67.06 29.58 66.96 29.29 66.95 29.03C66.94 28.77 67.02 28.44 67.16 28.2C67.3 27.96 67.54 27.73 67.77 27.6C68 27.48 68.31 27.42 68.54 27.46C68.78 27.5 69.04 27.65 69.19 27.83C69.34 28.02 69.44 28.31 69.45 28.57C69.46 28.83 69.38 29.16 69.24 29.4Z" fill="#feca33"/>
</g>
<path d="M35.6 109.7 L35.6 63.3 L49.5 63.3 L49.5 26.6 L57.4 26.6 L57.4 21.2 L65 21.9 L78 25.4 L100 34.4 L117 41.5 L122.9 44.7 L124.6 48 L125 50.7 L124.5 57 L123.4 62.7 L120.2 79.3 L104 79.3 L86 109.7Z" fill="none" stroke="#222" stroke-opacity=".55" stroke-width=".35"/>
<path d="M49.5 48.3H103.5V79.3" fill="none" stroke="#222" stroke-opacity=".45" stroke-width=".3"/>
<text class="b" x="77.7" y="32.6" text-anchor="middle">C-BH-1</text>
<text class="b" x="62.7" y="38.4" text-anchor="middle">C-BH-4</text>
<text class="b" x="88.4" y="37.8" text-anchor="middle">C-BH-2</text>
<text class="b" x="103.6" y="38.4" text-anchor="middle">C-BH-3</text>
<text class="b" x="77.7" y="46.5" text-anchor="middle">C-BH-5</text>
<text class="b" x="74.8" y="50.8" text-anchor="middle">A-BH-1</text>
<text class="b" x="95.6" y="47.1" text-anchor="middle">C-BH-6</text>
<text class="b" x="112.3" y="47.1" text-anchor="middle">C-BH-7</text>
<text class="b" x="125.3" y="47.1" text-anchor="middle">C-BH-8</text>
<text class="b" x="84.9" y="56.5" text-anchor="middle">B-BH-1</text>
<text class="b" x="100.2" y="58" text-anchor="middle">B-BH-3</text>
<text class="b" x="93.5" y="61.5" text-anchor="middle">B-BH-2</text>
<text class="b" x="56" y="58.5" text-anchor="middle">A-BH-2</text>
<text class="b" x="126" y="60.9" text-anchor="middle">C-BH-10</text>
<text class="b" x="116.6" y="64.4" text-anchor="middle">C-BH-9</text>
<text class="b" x="41.6" y="65.8" text-anchor="middle">A-BH-4</text>
<text class="b" x="122.4" y="73" text-anchor="middle">C-BH-11</text>
<text class="b" x="87" y="75.3" text-anchor="middle">B-BH-4</text>
<text class="b" x="102.2" y="75.3" text-anchor="middle">B-BH-6</text>
<text class="b" x="91.5" y="79.6" text-anchor="middle">B-BH-5</text>
<text class="b" x="51.2" y="79.6" text-anchor="middle">A-BH-6</text>
<text class="b" x="41.6" y="86.9" text-anchor="middle">A-BH-7</text>
<text class="b" x="76.2" y="86" text-anchor="middle">A-BH-9</text>
<text class="b" x="94.4" y="87.4" text-anchor="middle">B-BH-8</text>
<text class="b" x="58.9" y="89.7" text-anchor="middle">A-BH-8</text>
<text class="b" x="80.6" y="92.6" text-anchor="middle">B-BH-7</text>
<text class="b" x="108" y="89.7" text-anchor="middle">B-BH-12</text>
<text class="b" x="113.7" y="94.1" text-anchor="middle">IC-BH-12</text>
<text class="b" x="76.2" y="97.5" text-anchor="middle">B-BH-9</text>
<text class="b" x="93.5" y="97.5" text-anchor="middle">B-BH-10</text>
<text class="b" x="43.6" y="103.9" text-anchor="middle">A-BH-12</text>
<text class="b" x="77.1" y="103.9" text-anchor="middle">A-BH-10</text>
<text class="b" x="60.4" y="109.1" text-anchor="middle">A-BH-11</text>
<text class="b" x="89.2" y="107.6" text-anchor="middle">B-BH-11</text>
<g clip-path="url(#site)">
<text class="w" x="77.7" y="32.6" text-anchor="middle">C-BH-1</text>
<text class="w" x="62.7" y="38.4" text-anchor="middle">C-BH-4</text>
<text class="w" x="88.4" y="37.8" text-anchor="middle">C-BH-2</text>
<text class="w" x="77.7" y="46.5" text-anchor="middle">C-BH-5</text>
<text class="w" x="74.8" y="50.8" text-anchor="middle">A-BH-1</text>
<text class="w" x="95.6" y="47.1" text-anchor="middle">C-BH-6</text>
<text class="w" x="112.3" y="47.1" text-anchor="middle">C-BH-7</text>
<text class="w" x="125.3" y="47.1" text-anchor="middle">C-BH-8</text>
<text class="w" x="84.9" y="56.5" text-anchor="middle">B-BH-1</text>
<text class="w" x="100.2" y="58" text-anchor="middle">B-BH-3</text>
<text class="w" x="93.5" y="61.5" text-anchor="middle">B-BH-2</text>
<text class="w" x="56" y="58.5" text-anchor="middle">A-BH-2</text>
<text class="w" x="126" y="60.9" text-anchor="middle">C-BH-10</text>
<text class="w" x="116.6" y="64.4" text-anchor="middle">C-BH-9</text>
<text class="w" x="41.6" y="65.8" text-anchor="middle">A-BH-4</text>
<text class="w" x="122.4" y="73" text-anchor="middle">C-BH-11</text>
<text class="w" x="87" y="75.3" text-anchor="middle">B-BH-4</text>
<text class="w" x="102.2" y="75.3" text-anchor="middle">B-BH-6</text>
<text class="w" x="91.5" y="79.6" text-anchor="middle">B-BH-5</text>
<text class="w" x="51.2" y="79.6" text-anchor="middle">A-BH-6</text>
<text class="w" x="41.6" y="86.9" text-anchor="middle">A-BH-7</text>
<text class="w" x="76.2" y="86" text-anchor="middle">A-BH-9</text>
<text class="w" x="94.4" y="87.4" text-anchor="middle">B-BH-8</text>
<text class="w" x="58.9" y="89.7" text-anchor="middle">A-BH-8</text>
<text class="w" x="80.6" y="92.6" text-anchor="middle">B-BH-7</text>
<text class="w" x="108" y="89.7" text-anchor="middle">B-BH-12</text>
<text class="w" x="113.7" y="94.1" text-anchor="middle">IC-BH-12</text>
<text class="w" x="76.2" y="97.5" text-anchor="middle">B-BH-9</text>
<text class="w" x="93.5" y="97.5" text-anchor="middle">B-BH-10</text>
<text class="w" x="43.6" y="103.9" text-anchor="middle">A-BH-12</text>
<text class="w" x="77.1" y="103.9" text-anchor="middle">A-BH-10</text>
<text class="w" x="60.4" y="109.1" text-anchor="middle">A-BH-11</text>
<text class="w" x="89.2" y="107.6" text-anchor="middle">B-BH-11</text>
</g>
</g>
<g transform="translate(240 400.6)">
<path d="M32 14.4V115.2H134.8" fill="none" stroke="#cfcfcf" stroke-width=".7"/>
<text class="k" transform="translate(37.4 123.2) scale(.1)" text-anchor="middle">3000</text>
<text class="k" transform="translate(55.6 123.2) scale(.1)" text-anchor="middle">3500</text>
<text class="k" transform="translate(73.8 123.2) scale(.1)" text-anchor="middle">4000</text>
<text class="k" transform="translate(92 123.2) scale(.1)" text-anchor="middle">4500</text>
<text class="k" transform="translate(110.2 123.2) scale(.1)" text-anchor="middle">5000</text>
<text class="k" transform="translate(128.4 123.2) scale(.1)" text-anchor="middle">5500</text>
<text class="k" transform="translate(29.6 32.1) scale(.1)" text-anchor="end">2000</text>
<text class="k" transform="translate(29.6 54.4) scale(.1)" text-anchor="end">1500</text>
<text class="k" transform="translate(29.6 76.7) scale(.1)" text-anchor="end">1000</text>
<text class="k" transform="translate(29.6 99) scale(.1)" text-anchor="end">500</text>
<text class="t" x="77" y="132.7" font-size="6.7" text-anchor="middle" style="stroke:#111;stroke-width:.14px">X-Coordinate</text>
<text class="t" x="77.2" y="144" font-size="8" text-anchor="middle">(c-3)</text>
<g class="c" clip-path="url(#site)">
<rect x="30" y="15" width="100" height="100" fill="#3d29b2" stroke="none"/>
<path d="M39.22 78.98C38.81 80.18 40.85 85.71 41.81 88.36C42.77 91.01 43.01 92.33 44.99 94.85C46.96 97.38 49.92 101.35 53.65 103.51C57.37 105.68 64.95 107.96 67.35 107.84C69.76 107.72 69.88 104.35 68.08 102.79C66.27 101.23 59.78 100.51 56.53 98.46C53.28 96.42 50.64 93.41 48.59 90.52C46.55 87.64 45.83 83.07 44.27 81.15C42.7 79.22 39.62 77.78 39.22 78.98Z" fill="#4646e6"/>
<path d="M87.99 46.92C89.55 47.52 93.88 51.01 96.65 54.13C99.41 57.26 102.18 61.95 104.58 65.68C106.99 69.4 110.59 74.57 111.08 76.5C111.56 78.42 109.15 78.78 107.47 77.22C105.78 75.66 103.26 70.49 100.97 67.12C98.69 63.75 96.04 59.78 93.76 57.02C91.47 54.25 88.23 52.21 87.27 50.52C86.3 48.84 86.42 46.32 87.99 46.92Z" fill="#4646e6"/>
<path d="M48.85 25.82 L57.16 25.64 L57.22 20 L65.39 20.58 L73.7 23.48 L70.32 26.19 L67.8 28.32 L66.82 31.22 L68.8 34.29 L71.19 38.27 L70.91 44.65 L67.1 53.18 L65.11 60.49 L63.55 68.16 L56.06 69.15 L54.53 64.8 L53.48 56.8 L50.93 57.17 L47.24 58.41 L47.21 25.86Z" fill="#347afd"/>
<path d="M49.46 26.61 L57.4 26.61 L57.4 20.98 L65.19 21.56 L73.13 24.3 L69.81 27.04 L67.35 29.21 L66.34 32.09 L68.08 34.98 L70.24 38.59 L69.95 44.36 L66.63 52.3 L64.9 59.51 L63.46 67.16 L56.24 68.17 L54.8 63.84 L53.93 55.9 L51.48 56.34 L47.87 57.64 L47.87 26.61Z" fill="#f9fb15" style="stroke:#120c38;stroke-width:.55;stroke-opacity:.9"/>
<path d="M46.94 32.82C47.76 30.44 50.54 30.91 52.08 30.4C53.61 29.88 54.83 29.8 56.14 29.75C57.46 29.69 59.74 29.36 59.97 30.08C60.19 30.79 58.51 32.51 57.48 34.04C56.45 35.57 54.89 37.8 53.79 39.27C52.68 40.75 51.95 41.97 50.85 42.87C49.75 43.77 47.86 46.34 47.21 44.66C46.56 42.99 46.13 35.2 46.94 32.82Z" fill="#347afd"/>
<path d="M47.58 33.1C48.35 30.94 50.83 31.54 52.2 31.08C53.57 30.63 54.61 30.46 55.81 30.36C57.01 30.27 59.25 29.86 59.42 30.51C59.59 31.16 57.78 32.91 56.82 34.26C55.86 35.61 54.61 37.27 53.65 38.59C52.68 39.91 52.06 41.28 51.05 42.2C50.04 43.11 48.16 45.59 47.58 44.07C47.01 42.56 46.81 35.27 47.58 33.1Z" fill="#3d29b2" style="stroke:#120c38;stroke-width:.55;stroke-opacity:.9"/>
<path d="M74.8 32.1C74.8 32.81 74.54 33.65 74.15 34.22C73.76 34.79 73.08 35.31 72.45 35.52C71.82 35.74 70.98 35.74 70.35 35.52C69.72 35.31 69.04 34.79 68.65 34.22C68.26 33.65 68 32.81 68 32.1C68 31.39 68.26 30.55 68.65 29.98C69.04 29.41 69.72 28.89 70.35 28.68C70.98 28.46 71.82 28.46 72.45 28.68C73.08 28.89 73.76 29.41 74.15 29.98C74.54 30.55 74.8 31.39 74.8 32.1Z" fill="#347afd"/>
<path d="M72.4 31.8C72.4 32.19 72.26 32.66 72.06 32.98C71.85 33.29 71.49 33.58 71.16 33.7C70.82 33.82 70.38 33.82 70.04 33.7C69.71 33.58 69.35 33.29 69.14 32.98C68.94 32.66 68.8 32.19 68.8 31.8C68.8 31.41 68.94 30.94 69.14 30.62C69.35 30.31 69.71 30.02 70.04 29.9C70.38 29.78 70.82 29.78 71.16 29.9C71.49 30.02 71.85 30.31 72.06 30.62C72.26 30.94 72.4 31.41 72.4 31.8Z" fill="#21a3e3"/>
<path d="M61.15 67.74C60.76 65.81 63.84 64.99 65.19 66.58C66.54 68.17 68.84 75.34 69.23 77.26C69.61 79.18 68.84 79.71 67.5 78.13C66.15 76.54 61.53 69.66 61.15 67.74Z" fill="#3b65f4"/>
<path d="M33.44 63.54 L38.93 63.97 L37.19 69.6 L35.17 73.93 L33.44 73.93Z" fill="#f9fb15" style="stroke:#120c38;stroke-width:.55;stroke-opacity:.9"/>
<path d="M39.94 81.15C40.3 82.35 41.21 86.15 42.1 88.36C42.99 90.57 43.35 92.02 45.28 94.42C47.2 96.83 50.09 100.67 53.65 102.79C57.2 104.91 64.47 106.4 66.63 107.12" fill="none" style="stroke:#347afd;stroke-width:3.4;stroke-opacity:1;stroke-linecap:round"/>
<path d="M42.1 88.36C42.63 89.37 43.35 92.02 45.28 94.42C47.2 96.83 50.09 100.67 53.65 102.79C57.2 104.91 64.47 106.4 66.63 107.12" fill="none" style="stroke:#12beb9;stroke-width:2;stroke-opacity:1;stroke-linecap:round"/>
<path d="M45.28 94.42C46.67 95.82 50.09 100.67 53.65 102.79C57.2 104.91 64.47 106.4 66.63 107.12" fill="none" style="stroke:#c8c129;stroke-width:1;stroke-opacity:1;stroke-linecap:round"/>
<path d="M96.04 32.25C99.24 32.8 112.53 37.64 115.48 39.97C118.43 42.3 115.03 45.28 113.75 46.22C112.48 47.16 109.94 46.42 107.83 45.61C105.71 44.8 102.98 42.85 101.07 41.35C99.15 39.86 97.17 38.18 96.34 36.66C95.5 35.14 92.85 31.69 96.04 32.25Z" fill="#347afd"/>
<path d="M96.65 32.2 L114.68 39.41 L112.81 45.19 L107.47 44.32 L102.13 40.57 L97.51 36.53Z" fill="#f9fb15" style="stroke:#120c38;stroke-width:.55;stroke-opacity:.9"/>
<path d="M112.81 44.03C113.12 44.87 114.08 47.4 114.68 49.08C115.28 50.77 116.13 53.29 116.41 54.13" fill="none" style="stroke:#12beb9;stroke-width:1.1;stroke-opacity:1;stroke-linecap:round"/>
<path d="M109.63 75.2 L119.73 73.18 L119.73 81.55 L109.63 81.55Z" fill="#21a3e3"/>
<path d="M109.34 74.05 L119.73 72.03 L119.73 75.49 L109.63 76.35Z" fill="#3d29b2"/>
<path d="M111.08 76.79 L119.73 75.2 L119.73 81.55 L111.08 81.55Z" fill="#f9fb15" style="stroke:#120c38;stroke-width:.55;stroke-opacity:.9"/>
<path d="M89.43 48.36C90.63 49.75 94.24 53.6 96.65 56.73C99.05 59.86 101.7 63.99 103.86 67.12C106.02 70.25 108.67 74.09 109.63 75.49" fill="none" style="stroke:#3d60f2;stroke-width:0.55;stroke-opacity:1;stroke-linecap:round"/>
</g>
<path d="M35.6 109.7 L35.6 63.3 L49.5 63.3 L49.5 26.6 L57.4 26.6 L57.4 21.2 L65 21.9 L78 25.4 L100 34.4 L117 41.5 L122.9 44.7 L124.6 48 L125 50.7 L124.5 57 L123.4 62.7 L120.2 79.3 L104 79.3 L86 109.7Z" fill="none" stroke="#222" stroke-opacity=".55" stroke-width=".35"/>
<path d="M49.5 48.3H103.5V79.3" fill="none" stroke="#222" stroke-opacity=".45" stroke-width=".3"/>
<text class="b" x="77.7" y="32.6" text-anchor="middle">C-BH-1</text>
<text class="b" x="62.7" y="38.4" text-anchor="middle">C-BH-4</text>
<text class="b" x="88.4" y="37.8" text-anchor="middle">C-BH-2</text>
<text class="b" x="103.6" y="38.4" text-anchor="middle">C-BH-3</text>
<text class="b" x="77.7" y="46.5" text-anchor="middle">C-BH-5</text>
<text class="b" x="74.8" y="50.8" text-anchor="middle">A-BH-1</text>
<text class="b" x="95.6" y="47.1" text-anchor="middle">C-BH-6</text>
<text class="b" x="112.3" y="47.1" text-anchor="middle">C-BH-7</text>
<text class="b" x="125.3" y="47.1" text-anchor="middle">C-BH-8</text>
<text class="b" x="84.9" y="56.5" text-anchor="middle">B-BH-1</text>
<text class="b" x="100.2" y="58" text-anchor="middle">B-BH-3</text>
<text class="b" x="93.5" y="61.5" text-anchor="middle">B-BH-2</text>
<text class="b" x="56" y="58.5" text-anchor="middle">A-BH-2</text>
<text class="b" x="126" y="60.9" text-anchor="middle">C-BH-10</text>
<text class="b" x="116.6" y="64.4" text-anchor="middle">C-BH-9</text>
<text class="b" x="41.6" y="65.8" text-anchor="middle">A-BH-4</text>
<text class="b" x="122.4" y="73" text-anchor="middle">C-BH-11</text>
<text class="b" x="87" y="75.3" text-anchor="middle">B-BH-4</text>
<text class="b" x="102.2" y="75.3" text-anchor="middle">B-BH-6</text>
<text class="b" x="91.5" y="79.6" text-anchor="middle">B-BH-5</text>
<text class="b" x="51.2" y="79.6" text-anchor="middle">A-BH-6</text>
<text class="b" x="41.6" y="86.9" text-anchor="middle">A-BH-7</text>
<text class="b" x="76.2" y="86" text-anchor="middle">A-BH-9</text>
<text class="b" x="94.4" y="87.4" text-anchor="middle">B-BH-8</text>
<text class="b" x="58.9" y="89.7" text-anchor="middle">A-BH-8</text>
<text class="b" x="80.6" y="92.6" text-anchor="middle">B-BH-7</text>
<text class="b" x="108" y="89.7" text-anchor="middle">B-BH-12</text>
<text class="b" x="113.7" y="94.1" text-anchor="middle">IC-BH-12</text>
<text class="b" x="76.2" y="97.5" text-anchor="middle">B-BH-9</text>
<text class="b" x="93.5" y="97.5" text-anchor="middle">B-BH-10</text>
<text class="b" x="43.6" y="103.9" text-anchor="middle">A-BH-12</text>
<text class="b" x="77.1" y="103.9" text-anchor="middle">A-BH-10</text>
<text class="b" x="60.4" y="109.1" text-anchor="middle">A-BH-11</text>
<text class="b" x="89.2" y="107.6" text-anchor="middle">B-BH-11</text>
<g clip-path="url(#site)">
<text class="w" x="77.7" y="32.6" text-anchor="middle">C-BH-1</text>
<text class="w" x="88.4" y="37.8" text-anchor="middle">C-BH-2</text>
<text class="w" x="77.7" y="46.5" text-anchor="middle">C-BH-5</text>
<text class="w" x="74.8" y="50.8" text-anchor="middle">A-BH-1</text>
<text class="w" x="95.6" y="47.1" text-anchor="middle">C-BH-6</text>
<text class="w" x="112.3" y="47.1" text-anchor="middle">C-BH-7</text>
<text class="w" x="125.3" y="47.1" text-anchor="middle">C-BH-8</text>
<text class="w" x="84.9" y="56.5" text-anchor="middle">B-BH-1</text>
<text class="w" x="100.2" y="58" text-anchor="middle">B-BH-3</text>
<text class="w" x="93.5" y="61.5" text-anchor="middle">B-BH-2</text>
<text class="w" x="126" y="60.9" text-anchor="middle">C-BH-10</text>
<text class="w" x="116.6" y="64.4" text-anchor="middle">C-BH-9</text>
<text class="w" x="41.6" y="65.8" text-anchor="middle">A-BH-4</text>
<text class="w" x="122.4" y="73" text-anchor="middle">C-BH-11</text>
<text class="w" x="87" y="75.3" text-anchor="middle">B-BH-4</text>
<text class="w" x="102.2" y="75.3" text-anchor="middle">B-BH-6</text>
<text class="w" x="91.5" y="79.6" text-anchor="middle">B-BH-5</text>
<text class="w" x="51.2" y="79.6" text-anchor="middle">A-BH-6</text>
<text class="w" x="41.6" y="86.9" text-anchor="middle">A-BH-7</text>
<text class="w" x="76.2" y="86" text-anchor="middle">A-BH-9</text>
<text class="w" x="94.4" y="87.4" text-anchor="middle">B-BH-8</text>
<text class="w" x="58.9" y="89.7" text-anchor="middle">A-BH-8</text>
<text class="w" x="80.6" y="92.6" text-anchor="middle">B-BH-7</text>
<text class="w" x="108" y="89.7" text-anchor="middle">B-BH-12</text>
<text class="w" x="113.7" y="94.1" text-anchor="middle">IC-BH-12</text>
<text class="w" x="76.2" y="97.5" text-anchor="middle">B-BH-9</text>
<text class="w" x="93.5" y="97.5" text-anchor="middle">B-BH-10</text>
<text class="w" x="43.6" y="103.9" text-anchor="middle">A-BH-12</text>
<text class="w" x="77.1" y="103.9" text-anchor="middle">A-BH-10</text>
<text class="w" x="60.4" y="109.1" text-anchor="middle">A-BH-11</text>
<text class="w" x="89.2" y="107.6" text-anchor="middle">B-BH-11</text>
</g>
</g>
<rect x="379.7" y="111.06" width="6.6" height="8.69" fill="#3e26a8"/>
<rect x="379.7" y="102.52" width="6.6" height="8.69" fill="#4740e3"/>
<rect x="379.7" y="93.97" width="6.6" height="8.69" fill="#4660fc"/>
<rect x="379.7" y="85.43" width="6.6" height="8.69" fill="#2f82f9"/>
<rect x="379.7" y="76.89" width="6.6" height="8.69" fill="#23a0e5"/>
<rect x="379.7" y="68.35" width="6.6" height="8.69" fill="#03b7cc"/>
<rect x="379.7" y="59.81" width="6.6" height="8.69" fill="#2ec4a4"/>
<rect x="379.7" y="51.27" width="6.6" height="8.69" fill="#65cd6e"/>
<rect x="379.7" y="42.72" width="6.6" height="8.69" fill="#b6c532"/>
<rect x="379.7" y="34.18" width="6.6" height="8.69" fill="#f4ba3a"/>
<rect x="379.7" y="25.64" width="6.6" height="8.69" fill="#f9d82c"/>
<rect x="379.7" y="17.1" width="6.6" height="8.69" fill="#f9fb15"/>
<rect x="379.7" y="17.1" width="6.6" height="102.5" fill="none" stroke="#555" stroke-opacity=".35" stroke-width=".3"/>
<text class="k" transform="translate(388.3 18.6) scale(.084 .1)" style="font-size:50px;fill:#222;stroke:#222;stroke-width:1.6px">2.5</text>
<text class="k" transform="translate(388.3 35.7) scale(.084 .1)" style="font-size:50px;fill:#222;stroke:#222;stroke-width:1.6px">2</text>
<text class="k" transform="translate(388.3 52.8) scale(.084 .1)" style="font-size:50px;fill:#222;stroke:#222;stroke-width:1.6px">1.5</text>
<text class="k" transform="translate(388.3 69.9) scale(.084 .1)" style="font-size:50px;fill:#222;stroke:#222;stroke-width:1.6px">1</text>
<text class="k" transform="translate(388.3 87) scale(.084 .1)" style="font-size:50px;fill:#222;stroke:#222;stroke-width:1.6px">0.5</text>
<text class="k" transform="translate(388.3 104) scale(.084 .1)" style="font-size:50px;fill:#222;stroke:#222;stroke-width:1.6px">0</text>
<text class="k" transform="translate(388.3 121.1) scale(.084 .1)" style="font-size:50px;fill:#222;stroke:#222;stroke-width:1.6px">−0.5</text>
<text class="t" font-size="6.8" text-anchor="middle" transform="translate(408.5 69.5) rotate(-90)">Ground Surface Elevation (m)</text>
<rect x="380.2" y="257.64" width="6.7" height="6.51" fill="#3e26a8"/>
<rect x="380.2" y="251.29" width="6.7" height="6.51" fill="#4538d7"/>
<rect x="380.2" y="244.93" width="6.7" height="6.51" fill="#484ff2"/>
<rect x="380.2" y="238.57" width="6.7" height="6.51" fill="#4367fd"/>
<rect x="380.2" y="232.22" width="6.7" height="6.51" fill="#2f80fa"/>
<rect x="380.2" y="225.86" width="6.7" height="6.51" fill="#2797eb"/>
<rect x="380.2" y="219.51" width="6.7" height="6.51" fill="#1caadf"/>
<rect x="380.2" y="213.15" width="6.7" height="6.51" fill="#01b9c7"/>
<rect x="380.2" y="206.79" width="6.7" height="6.51" fill="#29c3aa"/>
<rect x="380.2" y="200.44" width="6.7" height="6.51" fill="#48cb86"/>
<rect x="380.2" y="194.08" width="6.7" height="6.51" fill="#81cc59"/>
<rect x="380.2" y="187.73" width="6.7" height="6.51" fill="#bbc42f"/>
<rect x="380.2" y="181.37" width="6.7" height="6.51" fill="#eaba31"/>
<rect x="380.2" y="175.01" width="6.7" height="6.51" fill="#fec735"/>
<rect x="380.2" y="168.66" width="6.7" height="6.51" fill="#f5e128"/>
<rect x="380.2" y="162.3" width="6.7" height="6.51" fill="#f9fb15"/>
<rect x="380.2" y="162.3" width="6.7" height="101.7" fill="none" stroke="#555" stroke-opacity=".35" stroke-width=".3"/>
<text class="k" transform="translate(388.9 163.8) scale(.084 .1)" style="font-size:50px;fill:#222;stroke:#222;stroke-width:1.6px">1.5</text>
<text class="k" transform="translate(388.9 176.5) scale(.084 .1)" style="font-size:50px;fill:#222;stroke:#222;stroke-width:1.6px">1</text>
<text class="k" transform="translate(388.9 189.2) scale(.084 .1)" style="font-size:50px;fill:#222;stroke:#222;stroke-width:1.6px">0.5</text>
<text class="k" transform="translate(388.9 201.9) scale(.084 .1)" style="font-size:50px;fill:#222;stroke:#222;stroke-width:1.6px">0</text>
<text class="k" transform="translate(388.9 214.7) scale(.084 .1)" style="font-size:50px;fill:#222;stroke:#222;stroke-width:1.6px">−0.5</text>
<text class="k" transform="translate(388.9 227.4) scale(.084 .1)" style="font-size:50px;fill:#222;stroke:#222;stroke-width:1.6px">−1</text>
<text class="k" transform="translate(388.9 240.1) scale(.084 .1)" style="font-size:50px;fill:#222;stroke:#222;stroke-width:1.6px">−1.5</text>
<text class="k" transform="translate(388.9 252.8) scale(.084 .1)" style="font-size:50px;fill:#222;stroke:#222;stroke-width:1.6px">−2</text>
<text class="k" transform="translate(388.9 265.5) scale(.084 .1)" style="font-size:50px;fill:#222;stroke:#222;stroke-width:1.6px">−2.5</text>
<text class="t" font-size="6.8" text-anchor="middle" transform="translate(409 213.7) rotate(-90)">Groundwater Level (m)</text>
<rect x="381.2" y="388.2" width="5.7" height="10.05" fill="#3e26a8"/>
<rect x="381.2" y="378.3" width="5.7" height="10.05" fill="#484cef"/>
<rect x="381.2" y="368.4" width="5.7" height="10.05" fill="#347afd"/>
<rect x="381.2" y="358.5" width="5.7" height="10.05" fill="#21a3e3"/>
<rect x="381.2" y="348.6" width="5.7" height="10.05" fill="#12beb9"/>
<rect x="381.2" y="338.7" width="5.7" height="10.05" fill="#5ccc76"/>
<rect x="381.2" y="328.8" width="5.7" height="10.05" fill="#c8c129"/>
<rect x="381.2" y="318.9" width="5.7" height="10.05" fill="#feca33"/>
<rect x="381.2" y="309" width="5.7" height="10.05" fill="#f9fb15"/>
<rect x="381.2" y="309" width="5.7" height="89.1" fill="none" stroke="#555" stroke-opacity=".35" stroke-width=".3"/>
<text class="k" transform="translate(388.9 322.1) scale(.084 .1)" style="font-size:50px;fill:#222;stroke:#222;stroke-width:1.6px">40</text>
<text class="k" transform="translate(388.9 341.5) scale(.084 .1)" style="font-size:50px;fill:#222;stroke:#222;stroke-width:1.6px">30</text>
<text class="k" transform="translate(388.9 360.9) scale(.084 .1)" style="font-size:50px;fill:#222;stroke:#222;stroke-width:1.6px">20</text>
<text class="k" transform="translate(388.9 380.2) scale(.084 .1)" style="font-size:50px;fill:#222;stroke:#222;stroke-width:1.6px">10</text>
<text class="k" transform="translate(388.9 399.6) scale(.084 .1)" style="font-size:50px;fill:#222;stroke:#222;stroke-width:1.6px">0</text>
<text class="t" font-size="6.8" text-anchor="middle" transform="translate(409 360) rotate(-90)">SPT-N Value (N)</text>
<rect x="381.2" y="498.01" width="5.7" height="9.94" fill="#3e26a8"/>
<rect x="381.2" y="488.22" width="5.7" height="9.94" fill="#484cef"/>
<rect x="381.2" y="478.43" width="5.7" height="9.94" fill="#347afd"/>
<rect x="381.2" y="468.64" width="5.7" height="9.94" fill="#21a3e3"/>
<rect x="381.2" y="458.86" width="5.7" height="9.94" fill="#12beb9"/>
<rect x="381.2" y="449.07" width="5.7" height="9.94" fill="#5ccc76"/>
<rect x="381.2" y="439.28" width="5.7" height="9.94" fill="#c8c129"/>
<rect x="381.2" y="429.49" width="5.7" height="9.94" fill="#feca33"/>
<rect x="381.2" y="419.7" width="5.7" height="9.94" fill="#f9fb15"/>
<rect x="381.2" y="419.7" width="5.7" height="88.1" fill="none" stroke="#555" stroke-opacity=".35" stroke-width=".3"/>
<text class="k" transform="translate(388.9 431.8) scale(.084 .1)" style="font-size:50px;fill:#222;stroke:#222;stroke-width:1.6px">40</text>
<text class="k" transform="translate(388.9 451.2) scale(.084 .1)" style="font-size:50px;fill:#222;stroke:#222;stroke-width:1.6px">30</text>
<text class="k" transform="translate(388.9 470.6) scale(.084 .1)" style="font-size:50px;fill:#222;stroke:#222;stroke-width:1.6px">20</text>
<text class="k" transform="translate(388.9 489.9) scale(.084 .1)" style="font-size:50px;fill:#222;stroke:#222;stroke-width:1.6px">10</text>
<text class="k" transform="translate(388.9 509.3) scale(.084 .1)" style="font-size:50px;fill:#222;stroke:#222;stroke-width:1.6px">0</text>
<text class="t" font-size="6.8" text-anchor="middle" transform="translate(409 468.5) rotate(-90)">SPT-N Value (N)</text>
</svg></body></html>
